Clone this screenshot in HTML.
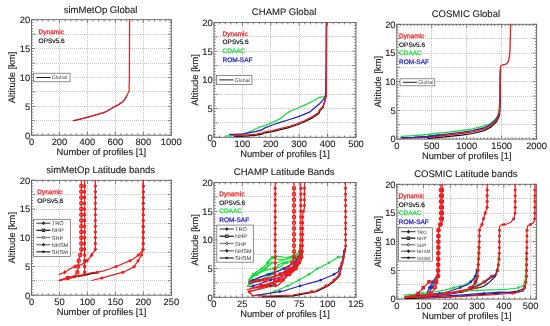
<!DOCTYPE html>
<html><head><meta charset="utf-8"><style>html,body{margin:0;padding:0;background:#fff;overflow:hidden}svg{display:block;text-rendering:geometricPrecision;will-change:transform}</style></head><body>
<svg width="550" height="326" viewBox="0 0 550 326" font-family='"Liberation Sans", sans-serif'>
<rect width="550" height="326" fill="#fff"/>
<path d="M59.5 20V135.2M87.5 20V135.2M115.5 20V135.2M143.5 20V135.2M32 120.5H171.3M32 106.5H171.3M32 91.5H171.3M32 77.5H171.3M32 63.5H171.3M32 48.5H171.3M32 34.5H171.3" stroke="#c8c8c8" stroke-width="1" stroke-dasharray="1,1" fill="none"/>
<path d="M31.5 135.2v-3.5M31.5 19.7v3.5M37.09 135.2v-1.8M37.09 19.7v1.8M42.68 135.2v-1.8M42.68 19.7v1.8M48.28 135.2v-1.8M48.28 19.7v1.8M53.87 135.2v-1.8M53.87 19.7v1.8M59.46 135.2v-3.5M59.46 19.7v3.5M65.05 135.2v-1.8M65.05 19.7v1.8M70.64 135.2v-1.8M70.64 19.7v1.8M76.24 135.2v-1.8M76.24 19.7v1.8M81.83 135.2v-1.8M81.83 19.7v1.8M87.42 135.2v-3.5M87.42 19.7v3.5M93.01 135.2v-1.8M93.01 19.7v1.8M98.6 135.2v-1.8M98.6 19.7v1.8M104.2 135.2v-1.8M104.2 19.7v1.8M109.79 135.2v-1.8M109.79 19.7v1.8M115.38 135.2v-3.5M115.38 19.7v3.5M120.97 135.2v-1.8M120.97 19.7v1.8M126.56 135.2v-1.8M126.56 19.7v1.8M132.16 135.2v-1.8M132.16 19.7v1.8M137.75 135.2v-1.8M137.75 19.7v1.8M143.34 135.2v-3.5M143.34 19.7v3.5M148.93 135.2v-1.8M148.93 19.7v1.8M154.52 135.2v-1.8M154.52 19.7v1.8M160.12 135.2v-1.8M160.12 19.7v1.8M165.71 135.2v-1.8M165.71 19.7v1.8M171.3 135.2v-3.5M171.3 19.7v3.5M31.5 135.2h3.5M171.3 135.2h-3.5M31.5 132.31h1.8M171.3 132.31h-1.8M31.5 129.42h1.8M171.3 129.42h-1.8M31.5 126.54h1.8M171.3 126.54h-1.8M31.5 123.65h1.8M171.3 123.65h-1.8M31.5 120.76h3.5M171.3 120.76h-3.5M31.5 117.88h1.8M171.3 117.88h-1.8M31.5 114.99h1.8M171.3 114.99h-1.8M31.5 112.1h1.8M171.3 112.1h-1.8M31.5 109.21h1.8M171.3 109.21h-1.8M31.5 106.32h3.5M171.3 106.32h-3.5M31.5 103.44h1.8M171.3 103.44h-1.8M31.5 100.55h1.8M171.3 100.55h-1.8M31.5 97.66h1.8M171.3 97.66h-1.8M31.5 94.78h1.8M171.3 94.78h-1.8M31.5 91.89h3.5M171.3 91.89h-3.5M31.5 89h1.8M171.3 89h-1.8M31.5 86.11h1.8M171.3 86.11h-1.8M31.5 83.22h1.8M171.3 83.22h-1.8M31.5 80.34h1.8M171.3 80.34h-1.8M31.5 77.45h3.5M171.3 77.45h-3.5M31.5 74.56h1.8M171.3 74.56h-1.8M31.5 71.67h1.8M171.3 71.67h-1.8M31.5 68.79h1.8M171.3 68.79h-1.8M31.5 65.9h1.8M171.3 65.9h-1.8M31.5 63.01h3.5M171.3 63.01h-3.5M31.5 60.12h1.8M171.3 60.12h-1.8M31.5 57.24h1.8M171.3 57.24h-1.8M31.5 54.35h1.8M171.3 54.35h-1.8M31.5 51.46h1.8M171.3 51.46h-1.8M31.5 48.58h3.5M171.3 48.58h-3.5M31.5 45.69h1.8M171.3 45.69h-1.8M31.5 42.8h1.8M171.3 42.8h-1.8M31.5 39.91h1.8M171.3 39.91h-1.8M31.5 37.03h1.8M171.3 37.03h-1.8M31.5 34.14h3.5M171.3 34.14h-3.5M31.5 31.25h1.8M171.3 31.25h-1.8M31.5 28.36h1.8M171.3 28.36h-1.8M31.5 25.48h1.8M171.3 25.48h-1.8M31.5 22.59h1.8M171.3 22.59h-1.8M31.5 19.7h3.5M171.3 19.7h-3.5" stroke="#626262" stroke-width="0.8" fill="none"/>
<rect x="31.5" y="19.7" width="139.8" height="115.5" fill="none" stroke="#626262" stroke-width="0.9"/>
<text x="31.5" y="145.2" font-size="9.4" fill="#1e1e1e" text-anchor="middle" stroke="#1e1e1e" stroke-width="0.12">0</text>
<text x="59.46" y="145.2" font-size="9.4" fill="#1e1e1e" text-anchor="middle" stroke="#1e1e1e" stroke-width="0.12">200</text>
<text x="87.42" y="145.2" font-size="9.4" fill="#1e1e1e" text-anchor="middle" stroke="#1e1e1e" stroke-width="0.12">400</text>
<text x="115.38" y="145.2" font-size="9.4" fill="#1e1e1e" text-anchor="middle" stroke="#1e1e1e" stroke-width="0.12">600</text>
<text x="143.34" y="145.2" font-size="9.4" fill="#1e1e1e" text-anchor="middle" stroke="#1e1e1e" stroke-width="0.12">800</text>
<text x="171.3" y="145.2" font-size="9.4" fill="#1e1e1e" text-anchor="middle" stroke="#1e1e1e" stroke-width="0.12">1000</text>
<text x="30.3" y="138.5" font-size="9.4" fill="#1e1e1e" text-anchor="end" stroke="#1e1e1e" stroke-width="0.12">0</text>
<text x="30.3" y="109.62" font-size="9.4" fill="#1e1e1e" text-anchor="end" stroke="#1e1e1e" stroke-width="0.12">5</text>
<text x="30.3" y="80.75" font-size="9.4" fill="#1e1e1e" text-anchor="end" stroke="#1e1e1e" stroke-width="0.12">10</text>
<text x="30.3" y="51.88" font-size="9.4" fill="#1e1e1e" text-anchor="end" stroke="#1e1e1e" stroke-width="0.12">15</text>
<text x="30.3" y="23" font-size="9.4" fill="#1e1e1e" text-anchor="end" stroke="#1e1e1e" stroke-width="0.12">20</text>
<text x="101.4" y="154.8" font-size="9.4" fill="#1e1e1e" text-anchor="middle" stroke="#1e1e1e" stroke-width="0.12">Number of profiles [1]</text>
<text x="0" y="0" font-size="9.4" fill="#1e1e1e" stroke="#1e1e1e" stroke-width="0.12" text-anchor="middle" transform="translate(15.3,77.45) rotate(-90)">Altitude [km]</text>
<text x="100.6" y="13.1" font-size="9.55" fill="#1e1e1e" text-anchor="middle" stroke="#1e1e1e" stroke-width="0.12">simMetOp Global</text>
<text x="38.6" y="33.8" font-size="6.5" fill="#ee1c1c" text-anchor="start" stroke="#ee1c1c" stroke-width="0.25">Dynamic</text>
<text x="38.6" y="42.5" font-size="6.5" fill="#111111" text-anchor="start" stroke="#111111" stroke-width="0.18">OPSv5.6</text>
<rect x="33.6" y="73.2" width="36.4" height="8.6" fill="#fff" stroke="#606060" stroke-width="0.7"/>
<path d="M36.4 77.5H50.6" stroke="#222" stroke-width="1"/>
<text x="51.8" y="79.4" font-size="5.25" fill="#4a4a4a" text-anchor="start" >Global</text>
<polyline points="127.1,95.7 124.6,100 122.2,102.5 118.5,104.9 114.8,106.8 111.1,108.9 107.5,111.1 103.8,112.9 100.1,113.8 98.9,114.2 90.4,116.7 82,118.9 73.5,120.9" fill="none" stroke="#111111" stroke-width="0.9" stroke-linejoin="round" stroke-linecap="round" />
<polyline points="129.6,19.7 129.4,80 129.1,86.1 129.1,91 127,95.3 124.5,99.6 122.1,102.1 118.4,104.5 114.7,106.4 111,108.5 107.4,110.7 103.7,112.5 100,113.4 98.8,113.8 90.3,116.3 81.9,118.5 73.4,120.5" fill="none" stroke="#ee1c1c" stroke-width="1.2" stroke-linejoin="round" stroke-linecap="round" />
<path d="M242.5 23V137.3M270.5 23V137.3M299.5 23V137.3M327.5 23V137.3M214 122.5H356M214 108.5H356M214 94.5H356M214 79.5H356M214 65.5H356M214 51.5H356M214 36.5H356" stroke="#c8c8c8" stroke-width="1" stroke-dasharray="1,1" fill="none"/>
<path d="M213.9 137.3v-3.5M213.9 22.6v3.5M219.58 137.3v-1.8M219.58 22.6v1.8M225.27 137.3v-1.8M225.27 22.6v1.8M230.95 137.3v-1.8M230.95 22.6v1.8M236.64 137.3v-1.8M236.64 22.6v1.8M242.32 137.3v-3.5M242.32 22.6v3.5M248 137.3v-1.8M248 22.6v1.8M253.69 137.3v-1.8M253.69 22.6v1.8M259.37 137.3v-1.8M259.37 22.6v1.8M265.06 137.3v-1.8M265.06 22.6v1.8M270.74 137.3v-3.5M270.74 22.6v3.5M276.42 137.3v-1.8M276.42 22.6v1.8M282.11 137.3v-1.8M282.11 22.6v1.8M287.79 137.3v-1.8M287.79 22.6v1.8M293.48 137.3v-1.8M293.48 22.6v1.8M299.16 137.3v-3.5M299.16 22.6v3.5M304.84 137.3v-1.8M304.84 22.6v1.8M310.53 137.3v-1.8M310.53 22.6v1.8M316.21 137.3v-1.8M316.21 22.6v1.8M321.9 137.3v-1.8M321.9 22.6v1.8M327.58 137.3v-3.5M327.58 22.6v3.5M333.26 137.3v-1.8M333.26 22.6v1.8M338.95 137.3v-1.8M338.95 22.6v1.8M344.63 137.3v-1.8M344.63 22.6v1.8M350.32 137.3v-1.8M350.32 22.6v1.8M356 137.3v-3.5M356 22.6v3.5M213.9 137.3h3.5M356 137.3h-3.5M213.9 134.43h1.8M356 134.43h-1.8M213.9 131.56h1.8M356 131.56h-1.8M213.9 128.7h1.8M356 128.7h-1.8M213.9 125.83h1.8M356 125.83h-1.8M213.9 122.96h3.5M356 122.96h-3.5M213.9 120.1h1.8M356 120.1h-1.8M213.9 117.23h1.8M356 117.23h-1.8M213.9 114.36h1.8M356 114.36h-1.8M213.9 111.49h1.8M356 111.49h-1.8M213.9 108.62h3.5M356 108.62h-3.5M213.9 105.76h1.8M356 105.76h-1.8M213.9 102.89h1.8M356 102.89h-1.8M213.9 100.02h1.8M356 100.02h-1.8M213.9 97.16h1.8M356 97.16h-1.8M213.9 94.29h3.5M356 94.29h-3.5M213.9 91.42h1.8M356 91.42h-1.8M213.9 88.55h1.8M356 88.55h-1.8M213.9 85.69h1.8M356 85.69h-1.8M213.9 82.82h1.8M356 82.82h-1.8M213.9 79.95h3.5M356 79.95h-3.5M213.9 77.08h1.8M356 77.08h-1.8M213.9 74.22h1.8M356 74.22h-1.8M213.9 71.35h1.8M356 71.35h-1.8M213.9 68.48h1.8M356 68.48h-1.8M213.9 65.61h3.5M356 65.61h-3.5M213.9 62.75h1.8M356 62.75h-1.8M213.9 59.88h1.8M356 59.88h-1.8M213.9 57.01h1.8M356 57.01h-1.8M213.9 54.14h1.8M356 54.14h-1.8M213.9 51.28h3.5M356 51.28h-3.5M213.9 48.41h1.8M356 48.41h-1.8M213.9 45.54h1.8M356 45.54h-1.8M213.9 42.67h1.8M356 42.67h-1.8M213.9 39.8h1.8M356 39.8h-1.8M213.9 36.94h3.5M356 36.94h-3.5M213.9 34.07h1.8M356 34.07h-1.8M213.9 31.2h1.8M356 31.2h-1.8M213.9 28.33h1.8M356 28.33h-1.8M213.9 25.47h1.8M356 25.47h-1.8M213.9 22.6h3.5M356 22.6h-3.5" stroke="#626262" stroke-width="0.8" fill="none"/>
<rect x="213.9" y="22.6" width="142.1" height="114.7" fill="none" stroke="#626262" stroke-width="0.9"/>
<text x="213.9" y="147.3" font-size="9.4" fill="#1e1e1e" text-anchor="middle" stroke="#1e1e1e" stroke-width="0.12">0</text>
<text x="242.32" y="147.3" font-size="9.4" fill="#1e1e1e" text-anchor="middle" stroke="#1e1e1e" stroke-width="0.12">100</text>
<text x="270.74" y="147.3" font-size="9.4" fill="#1e1e1e" text-anchor="middle" stroke="#1e1e1e" stroke-width="0.12">200</text>
<text x="299.16" y="147.3" font-size="9.4" fill="#1e1e1e" text-anchor="middle" stroke="#1e1e1e" stroke-width="0.12">300</text>
<text x="327.58" y="147.3" font-size="9.4" fill="#1e1e1e" text-anchor="middle" stroke="#1e1e1e" stroke-width="0.12">400</text>
<text x="356" y="147.3" font-size="9.4" fill="#1e1e1e" text-anchor="middle" stroke="#1e1e1e" stroke-width="0.12">500</text>
<text x="212.7" y="140.6" font-size="9.4" fill="#1e1e1e" text-anchor="end" stroke="#1e1e1e" stroke-width="0.12">0</text>
<text x="212.7" y="111.92" font-size="9.4" fill="#1e1e1e" text-anchor="end" stroke="#1e1e1e" stroke-width="0.12">5</text>
<text x="212.7" y="83.25" font-size="9.4" fill="#1e1e1e" text-anchor="end" stroke="#1e1e1e" stroke-width="0.12">10</text>
<text x="212.7" y="54.58" font-size="9.4" fill="#1e1e1e" text-anchor="end" stroke="#1e1e1e" stroke-width="0.12">15</text>
<text x="212.7" y="25.9" font-size="9.4" fill="#1e1e1e" text-anchor="end" stroke="#1e1e1e" stroke-width="0.12">20</text>
<text x="284.95" y="156.9" font-size="9.4" fill="#1e1e1e" text-anchor="middle" stroke="#1e1e1e" stroke-width="0.12">Number of profiles [1]</text>
<text x="0" y="0" font-size="9.4" fill="#1e1e1e" stroke="#1e1e1e" stroke-width="0.12" text-anchor="middle" transform="translate(197.7,79.95) rotate(-90)">Altitude [km]</text>
<text x="284.15" y="14.8" font-size="9.55" fill="#1e1e1e" text-anchor="middle" stroke="#1e1e1e" stroke-width="0.12">CHAMP Global</text>
<text x="222.5" y="35.9" font-size="6.5" fill="#ee1c1c" text-anchor="start" stroke="#ee1c1c" stroke-width="0.25">Dynamic</text>
<text x="222.5" y="44.45" font-size="6.5" fill="#111111" text-anchor="start" stroke="#111111" stroke-width="0.18">OPSv5.6</text>
<text x="222.5" y="53" font-size="6.5" fill="#19dc3c" text-anchor="start" stroke="#19dc3c" stroke-width="0.25">CDAAC</text>
<text x="222.5" y="61.55" font-size="6.5" fill="#2222c8" text-anchor="start" stroke="#2222c8" stroke-width="0.25">ROM-SAF</text>
<rect x="216.4" y="75.4" width="35.5" height="9" fill="#fff" stroke="#606060" stroke-width="0.7"/>
<path d="M219.2 79.9H233.4" stroke="#222" stroke-width="1"/>
<text x="234.6" y="81.8" font-size="5.25" fill="#4a4a4a" text-anchor="start" >Global</text>
<polyline points="233.9,136.2 241.1,136.5 248.4,135.8 256.6,135.1 262,134.2 265.4,132.8 272.8,131.6 281.4,129.4 289.9,127.3 297.3,124.8 304.6,121.8 312,118.1 318.7,113.8 320,110.7 323,107.7 326.4,95 326.5,22.6" fill="none" stroke="#111111" stroke-width="1.2" stroke-linejoin="round" stroke-linecap="round" />
<polyline points="225.3,136.1 231.6,135.7 240.7,134.5 248,132.7 254.4,129.5 258.9,127.3 263.5,125.9 265,125.7 272.4,122.6 281,118.3 285.8,114 290.8,110.9 296.9,108.5 301.8,106.3 307.9,103.6 314.1,100.5 319,97.5 322.6,96.8 324.5,96.8 325.6,95.6" fill="none" stroke="#19dc3c" stroke-width="1.3" stroke-linejoin="round" stroke-linecap="round" />
<polyline points="229.8,134.5 236.2,134.3 243.5,133.9 249.8,132.7 256.2,131.4 261.6,130 265,127.9 272.4,125 281,122.2 289.5,119.5 296.9,117.1 304.2,114.4 310.4,111.6 315.3,107.3 319,104.2 322,101.1 324.5,98.1 325.7,95 326.2,60 326.4,22.6" fill="none" stroke="#2222c8" stroke-width="1.3" stroke-linejoin="round" stroke-linecap="round" />
<polyline points="233.5,135.2 240.7,135.5 248,134.8 256.2,134.1 261.6,133.2 265,131.8 272.4,130.6 281,128.4 289.5,126.3 296.9,123.8 304.2,120.8 311.6,117.1 318.3,112.8 319.6,109.7 322.6,106.7 325.1,101.1 326.3,95 326.5,22.6" fill="none" stroke="#ee1c1c" stroke-width="1.3" stroke-linejoin="round" stroke-linecap="round" />
<path d="M431.5 25V139.1M466.5 25V139.1M501.5 25V139.1M397 124.5H536.6M397 110.5H536.6M397 96.5H536.6M397 81.5H536.6M397 67.5H536.6M397 53.5H536.6M397 38.5H536.6" stroke="#c8c8c8" stroke-width="1" stroke-dasharray="1,1" fill="none"/>
<path d="M396.8 139.1v-3.5M396.8 24.3v3.5M400.3 139.1v-1.8M400.3 24.3v1.8M403.79 139.1v-1.8M403.79 24.3v1.8M407.29 139.1v-1.8M407.29 24.3v1.8M410.78 139.1v-1.8M410.78 24.3v1.8M414.28 139.1v-1.8M414.28 24.3v1.8M417.77 139.1v-1.8M417.77 24.3v1.8M421.26 139.1v-1.8M421.26 24.3v1.8M424.76 139.1v-1.8M424.76 24.3v1.8M428.25 139.1v-1.8M428.25 24.3v1.8M431.75 139.1v-3.5M431.75 24.3v3.5M435.25 139.1v-1.8M435.25 24.3v1.8M438.74 139.1v-1.8M438.74 24.3v1.8M442.24 139.1v-1.8M442.24 24.3v1.8M445.73 139.1v-1.8M445.73 24.3v1.8M449.23 139.1v-1.8M449.23 24.3v1.8M452.72 139.1v-1.8M452.72 24.3v1.8M456.22 139.1v-1.8M456.22 24.3v1.8M459.71 139.1v-1.8M459.71 24.3v1.8M463.21 139.1v-1.8M463.21 24.3v1.8M466.7 139.1v-3.5M466.7 24.3v3.5M470.2 139.1v-1.8M470.2 24.3v1.8M473.69 139.1v-1.8M473.69 24.3v1.8M477.19 139.1v-1.8M477.19 24.3v1.8M480.68 139.1v-1.8M480.68 24.3v1.8M484.18 139.1v-1.8M484.18 24.3v1.8M487.67 139.1v-1.8M487.67 24.3v1.8M491.17 139.1v-1.8M491.17 24.3v1.8M494.66 139.1v-1.8M494.66 24.3v1.8M498.16 139.1v-1.8M498.16 24.3v1.8M501.65 139.1v-3.5M501.65 24.3v3.5M505.15 139.1v-1.8M505.15 24.3v1.8M508.64 139.1v-1.8M508.64 24.3v1.8M512.13 139.1v-1.8M512.13 24.3v1.8M515.63 139.1v-1.8M515.63 24.3v1.8M519.12 139.1v-1.8M519.12 24.3v1.8M522.62 139.1v-1.8M522.62 24.3v1.8M526.12 139.1v-1.8M526.12 24.3v1.8M529.61 139.1v-1.8M529.61 24.3v1.8M533.11 139.1v-1.8M533.11 24.3v1.8M536.6 139.1v-3.5M536.6 24.3v3.5M396.8 139.1h3.5M536.6 139.1h-3.5M396.8 136.23h1.8M536.6 136.23h-1.8M396.8 133.36h1.8M536.6 133.36h-1.8M396.8 130.49h1.8M536.6 130.49h-1.8M396.8 127.62h1.8M536.6 127.62h-1.8M396.8 124.75h3.5M536.6 124.75h-3.5M396.8 121.88h1.8M536.6 121.88h-1.8M396.8 119.01h1.8M536.6 119.01h-1.8M396.8 116.14h1.8M536.6 116.14h-1.8M396.8 113.27h1.8M536.6 113.27h-1.8M396.8 110.4h3.5M536.6 110.4h-3.5M396.8 107.53h1.8M536.6 107.53h-1.8M396.8 104.66h1.8M536.6 104.66h-1.8M396.8 101.79h1.8M536.6 101.79h-1.8M396.8 98.92h1.8M536.6 98.92h-1.8M396.8 96.05h3.5M536.6 96.05h-3.5M396.8 93.18h1.8M536.6 93.18h-1.8M396.8 90.31h1.8M536.6 90.31h-1.8M396.8 87.44h1.8M536.6 87.44h-1.8M396.8 84.57h1.8M536.6 84.57h-1.8M396.8 81.7h3.5M536.6 81.7h-3.5M396.8 78.83h1.8M536.6 78.83h-1.8M396.8 75.96h1.8M536.6 75.96h-1.8M396.8 73.09h1.8M536.6 73.09h-1.8M396.8 70.22h1.8M536.6 70.22h-1.8M396.8 67.35h3.5M536.6 67.35h-3.5M396.8 64.48h1.8M536.6 64.48h-1.8M396.8 61.61h1.8M536.6 61.61h-1.8M396.8 58.74h1.8M536.6 58.74h-1.8M396.8 55.87h1.8M536.6 55.87h-1.8M396.8 53h3.5M536.6 53h-3.5M396.8 50.13h1.8M536.6 50.13h-1.8M396.8 47.26h1.8M536.6 47.26h-1.8M396.8 44.39h1.8M536.6 44.39h-1.8M396.8 41.52h1.8M536.6 41.52h-1.8M396.8 38.65h3.5M536.6 38.65h-3.5M396.8 35.78h1.8M536.6 35.78h-1.8M396.8 32.91h1.8M536.6 32.91h-1.8M396.8 30.04h1.8M536.6 30.04h-1.8M396.8 27.17h1.8M536.6 27.17h-1.8M396.8 24.3h3.5M536.6 24.3h-3.5" stroke="#626262" stroke-width="0.8" fill="none"/>
<rect x="396.8" y="24.3" width="139.8" height="114.8" fill="none" stroke="#626262" stroke-width="0.9"/>
<text x="396.8" y="149.1" font-size="9.4" fill="#1e1e1e" text-anchor="middle" stroke="#1e1e1e" stroke-width="0.12">0</text>
<text x="431.75" y="149.1" font-size="9.4" fill="#1e1e1e" text-anchor="middle" stroke="#1e1e1e" stroke-width="0.12">500</text>
<text x="466.7" y="149.1" font-size="9.4" fill="#1e1e1e" text-anchor="middle" stroke="#1e1e1e" stroke-width="0.12">1000</text>
<text x="501.65" y="149.1" font-size="9.4" fill="#1e1e1e" text-anchor="middle" stroke="#1e1e1e" stroke-width="0.12">1500</text>
<text x="536.6" y="149.1" font-size="9.4" fill="#1e1e1e" text-anchor="middle" stroke="#1e1e1e" stroke-width="0.12">2000</text>
<text x="395.6" y="142.4" font-size="9.4" fill="#1e1e1e" text-anchor="end" stroke="#1e1e1e" stroke-width="0.12">0</text>
<text x="395.6" y="113.7" font-size="9.4" fill="#1e1e1e" text-anchor="end" stroke="#1e1e1e" stroke-width="0.12">5</text>
<text x="395.6" y="85" font-size="9.4" fill="#1e1e1e" text-anchor="end" stroke="#1e1e1e" stroke-width="0.12">10</text>
<text x="395.6" y="56.3" font-size="9.4" fill="#1e1e1e" text-anchor="end" stroke="#1e1e1e" stroke-width="0.12">15</text>
<text x="395.6" y="27.6" font-size="9.4" fill="#1e1e1e" text-anchor="end" stroke="#1e1e1e" stroke-width="0.12">20</text>
<text x="466.7" y="158.7" font-size="9.4" fill="#1e1e1e" text-anchor="middle" stroke="#1e1e1e" stroke-width="0.12">Number of profiles [1]</text>
<text x="0" y="0" font-size="9.4" fill="#1e1e1e" stroke="#1e1e1e" stroke-width="0.12" text-anchor="middle" transform="translate(380.6,81.7) rotate(-90)">Altitude [km]</text>
<text x="465.9" y="16.8" font-size="9.55" fill="#1e1e1e" text-anchor="middle" stroke="#1e1e1e" stroke-width="0.12">COSMIC Global</text>
<text x="399" y="37.9" font-size="6.5" fill="#ee1c1c" text-anchor="start" stroke="#ee1c1c" stroke-width="0.25">Dynamic</text>
<text x="399" y="46.5" font-size="6.5" fill="#111111" text-anchor="start" stroke="#111111" stroke-width="0.18">OPSv5.6</text>
<text x="399" y="55.1" font-size="6.5" fill="#19dc3c" text-anchor="start" stroke="#19dc3c" stroke-width="0.25">CDAAC</text>
<text x="399" y="63.7" font-size="6.5" fill="#2222c8" text-anchor="start" stroke="#2222c8" stroke-width="0.25">ROM-SAF</text>
<rect x="400" y="78.8" width="34.8" height="7" fill="#fff" stroke="#606060" stroke-width="0.7"/>
<path d="M402.8 82.3H417" stroke="#222" stroke-width="1"/>
<text x="418.2" y="84.2" font-size="5.25" fill="#4a4a4a" text-anchor="start" >Global</text>
<polyline points="427.8,138.4 440,137.3 461.8,135.1 472.7,133.5 483.6,130.9 491.3,126.9 496.7,121.5 499.5,115.5 500.2,100 500.4,70" fill="none" stroke="#111111" stroke-width="1.2" stroke-linejoin="round" stroke-linecap="round" />
<polyline points="401,136.4 414.2,135.6 427.8,134.5 440,132.9 450.9,131.8 461.8,130.5 472.7,128.8 483.6,126.1 489.1,124 494.5,120.4 497.8,115.5 498.9,110 499.5,104 500,95 500.4,70" fill="none" stroke="#19dc3c" stroke-width="1.3" stroke-linejoin="round" stroke-linecap="round" />
<polyline points="401.5,137.6 414.2,137.3 427.8,136.5 440,134.9 461.8,132.4 472.7,130.7 483.6,128 491.3,124.2 496.7,118.7 499.5,112.2 500,100 500.4,70" fill="none" stroke="#2222c8" stroke-width="1.3" stroke-linejoin="round" stroke-linecap="round" />
<polyline points="402,138.2 427.8,137.3 440,136 461.8,133.5 472.7,131.8 483.6,129.1 491.3,125.3 496.7,119.8 499.5,113.3 500.1,100 500.3,90 500.5,67.9 501.1,65.7 502.9,64.8 506.6,63.9 508.4,61.5 509.4,56.9 509.9,51.3 510.3,38.4 510.6,24.3" fill="none" stroke="#ee1c1c" stroke-width="1.3" stroke-linejoin="round" stroke-linecap="round" />
<polyline points="401.5,137.6 414.2,137.3 427.8,136.5 440,134.9" fill="none" stroke="#2222c8" stroke-width="1.3" stroke-linejoin="round" stroke-linecap="round" />
<path d="M59.5 181V295.2M87.5 181V295.2M115.5 181V295.2M143.5 181V295.2M32 280.5H171.4M32 266.5H171.4M32 252.5H171.4M32 237.5H171.4M32 223.5H171.4M32 209.5H171.4M32 194.5H171.4" stroke="#c8c8c8" stroke-width="1" stroke-dasharray="1,1" fill="none"/>
<path d="M31.5 295.2v-3.5M31.5 180.3v3.5M37.1 295.2v-1.8M37.1 180.3v1.8M42.69 295.2v-1.8M42.69 180.3v1.8M48.29 295.2v-1.8M48.29 180.3v1.8M53.88 295.2v-1.8M53.88 180.3v1.8M59.48 295.2v-3.5M59.48 180.3v3.5M65.08 295.2v-1.8M65.08 180.3v1.8M70.67 295.2v-1.8M70.67 180.3v1.8M76.27 295.2v-1.8M76.27 180.3v1.8M81.86 295.2v-1.8M81.86 180.3v1.8M87.46 295.2v-3.5M87.46 180.3v3.5M93.06 295.2v-1.8M93.06 180.3v1.8M98.65 295.2v-1.8M98.65 180.3v1.8M104.25 295.2v-1.8M104.25 180.3v1.8M109.84 295.2v-1.8M109.84 180.3v1.8M115.44 295.2v-3.5M115.44 180.3v3.5M121.04 295.2v-1.8M121.04 180.3v1.8M126.63 295.2v-1.8M126.63 180.3v1.8M132.23 295.2v-1.8M132.23 180.3v1.8M137.82 295.2v-1.8M137.82 180.3v1.8M143.42 295.2v-3.5M143.42 180.3v3.5M149.02 295.2v-1.8M149.02 180.3v1.8M154.61 295.2v-1.8M154.61 180.3v1.8M160.21 295.2v-1.8M160.21 180.3v1.8M165.8 295.2v-1.8M165.8 180.3v1.8M171.4 295.2v-3.5M171.4 180.3v3.5M31.5 295.2h3.5M171.4 295.2h-3.5M31.5 292.33h1.8M171.4 292.33h-1.8M31.5 289.45h1.8M171.4 289.45h-1.8M31.5 286.58h1.8M171.4 286.58h-1.8M31.5 283.71h1.8M171.4 283.71h-1.8M31.5 280.84h3.5M171.4 280.84h-3.5M31.5 277.96h1.8M171.4 277.96h-1.8M31.5 275.09h1.8M171.4 275.09h-1.8M31.5 272.22h1.8M171.4 272.22h-1.8M31.5 269.35h1.8M171.4 269.35h-1.8M31.5 266.48h3.5M171.4 266.48h-3.5M31.5 263.6h1.8M171.4 263.6h-1.8M31.5 260.73h1.8M171.4 260.73h-1.8M31.5 257.86h1.8M171.4 257.86h-1.8M31.5 254.99h1.8M171.4 254.99h-1.8M31.5 252.11h3.5M171.4 252.11h-3.5M31.5 249.24h1.8M171.4 249.24h-1.8M31.5 246.37h1.8M171.4 246.37h-1.8M31.5 243.5h1.8M171.4 243.5h-1.8M31.5 240.62h1.8M171.4 240.62h-1.8M31.5 237.75h3.5M171.4 237.75h-3.5M31.5 234.88h1.8M171.4 234.88h-1.8M31.5 232h1.8M171.4 232h-1.8M31.5 229.13h1.8M171.4 229.13h-1.8M31.5 226.26h1.8M171.4 226.26h-1.8M31.5 223.39h3.5M171.4 223.39h-3.5M31.5 220.51h1.8M171.4 220.51h-1.8M31.5 217.64h1.8M171.4 217.64h-1.8M31.5 214.77h1.8M171.4 214.77h-1.8M31.5 211.9h1.8M171.4 211.9h-1.8M31.5 209.03h3.5M171.4 209.03h-3.5M31.5 206.15h1.8M171.4 206.15h-1.8M31.5 203.28h1.8M171.4 203.28h-1.8M31.5 200.41h1.8M171.4 200.41h-1.8M31.5 197.54h1.8M171.4 197.54h-1.8M31.5 194.66h3.5M171.4 194.66h-3.5M31.5 191.79h1.8M171.4 191.79h-1.8M31.5 188.92h1.8M171.4 188.92h-1.8M31.5 186.05h1.8M171.4 186.05h-1.8M31.5 183.17h1.8M171.4 183.17h-1.8M31.5 180.3h3.5M171.4 180.3h-3.5" stroke="#626262" stroke-width="0.8" fill="none"/>
<rect x="31.5" y="180.3" width="139.9" height="114.9" fill="none" stroke="#626262" stroke-width="0.9"/>
<text x="31.5" y="305.2" font-size="9.4" fill="#1e1e1e" text-anchor="middle" stroke="#1e1e1e" stroke-width="0.12">0</text>
<text x="59.48" y="305.2" font-size="9.4" fill="#1e1e1e" text-anchor="middle" stroke="#1e1e1e" stroke-width="0.12">50</text>
<text x="87.46" y="305.2" font-size="9.4" fill="#1e1e1e" text-anchor="middle" stroke="#1e1e1e" stroke-width="0.12">100</text>
<text x="115.44" y="305.2" font-size="9.4" fill="#1e1e1e" text-anchor="middle" stroke="#1e1e1e" stroke-width="0.12">150</text>
<text x="143.42" y="305.2" font-size="9.4" fill="#1e1e1e" text-anchor="middle" stroke="#1e1e1e" stroke-width="0.12">200</text>
<text x="171.4" y="305.2" font-size="9.4" fill="#1e1e1e" text-anchor="middle" stroke="#1e1e1e" stroke-width="0.12">250</text>
<text x="30.3" y="298.5" font-size="9.4" fill="#1e1e1e" text-anchor="end" stroke="#1e1e1e" stroke-width="0.12">0</text>
<text x="30.3" y="269.78" font-size="9.4" fill="#1e1e1e" text-anchor="end" stroke="#1e1e1e" stroke-width="0.12">5</text>
<text x="30.3" y="241.05" font-size="9.4" fill="#1e1e1e" text-anchor="end" stroke="#1e1e1e" stroke-width="0.12">10</text>
<text x="30.3" y="212.33" font-size="9.4" fill="#1e1e1e" text-anchor="end" stroke="#1e1e1e" stroke-width="0.12">15</text>
<text x="30.3" y="183.6" font-size="9.4" fill="#1e1e1e" text-anchor="end" stroke="#1e1e1e" stroke-width="0.12">20</text>
<text x="101.45" y="314.8" font-size="9.4" fill="#1e1e1e" text-anchor="middle" stroke="#1e1e1e" stroke-width="0.12">Number of profiles [1]</text>
<text x="0" y="0" font-size="9.4" fill="#1e1e1e" stroke="#1e1e1e" stroke-width="0.12" text-anchor="middle" transform="translate(15.3,237.75) rotate(-90)">Altitude [km]</text>
<text x="100.65" y="173.2" font-size="9.55" fill="#1e1e1e" text-anchor="middle" stroke="#1e1e1e" stroke-width="0.12">simMetOp Latitude bands</text>
<text x="37.3" y="193.6" font-size="6.5" fill="#ee1c1c" text-anchor="start" stroke="#ee1c1c" stroke-width="0.25">Dynamic</text>
<text x="37.3" y="202.5" font-size="6.5" fill="#111111" text-anchor="start" stroke="#111111" stroke-width="0.18">OPSv5.6</text>
<polyline points="69.3,278.3 76.8,276.7 85.4,275.1 92.4,273.4 97.9,273" fill="none" stroke="#111111" stroke-width="1.1" stroke-linejoin="round" stroke-linecap="round" />
<polyline points="143.2,180.3 143.2,249.7 141.5,255 138.3,260.4 134,266.9 124.3,271.8 105,277.2 91.8,280.5" fill="none" stroke="#ee1c1c" stroke-width="1.2" stroke-linejoin="round" stroke-linecap="round" />
<circle cx="101.94" cy="277.96" r="1.5" fill="#ee1c1c"/>
<circle cx="122.8" cy="272.22" r="1.5" fill="#ee1c1c"/>
<circle cx="134.28" cy="266.47" r="1.5" fill="#ee1c1c"/>
<circle cx="138.08" cy="260.73" r="1.5" fill="#ee1c1c"/>
<circle cx="141.5" cy="254.98" r="1.5" fill="#ee1c1c"/>
<circle cx="143.2" cy="249.24" r="1.5" fill="#ee1c1c"/>
<circle cx="143.2" cy="243.5" r="1.5" fill="#ee1c1c"/>
<circle cx="143.2" cy="237.75" r="1.5" fill="#ee1c1c"/>
<circle cx="143.2" cy="232" r="1.5" fill="#ee1c1c"/>
<circle cx="143.2" cy="226.26" r="1.5" fill="#ee1c1c"/>
<circle cx="143.2" cy="220.51" r="1.5" fill="#ee1c1c"/>
<circle cx="143.2" cy="214.77" r="1.5" fill="#ee1c1c"/>
<circle cx="143.2" cy="209.02" r="1.5" fill="#ee1c1c"/>
<circle cx="143.2" cy="203.28" r="1.5" fill="#ee1c1c"/>
<circle cx="143.2" cy="197.53" r="1.5" fill="#ee1c1c"/>
<circle cx="143.2" cy="191.79" r="1.5" fill="#ee1c1c"/>
<circle cx="143.2" cy="186.04" r="1.5" fill="#ee1c1c"/>
<polyline points="143.4,180.3 143.2,247 142.6,250.5 139.4,254 136,257 130.8,260.4 117.9,265.8 110,268.7 102.9,271.1 97.5,272.2 92,272.6 85,274.3 76.4,275.9 68.9,277.5 59.3,280.4" fill="none" stroke="#ee1c1c" stroke-width="1.2" stroke-linejoin="round" stroke-linecap="round" />
<circle cx="67.36" cy="277.96" r="1.5" fill="#ee1c1c"/>
<circle cx="97.23" cy="272.22" r="1.5" fill="#ee1c1c"/>
<circle cx="116.06" cy="266.47" r="1.5" fill="#ee1c1c"/>
<circle cx="130.01" cy="260.73" r="1.5" fill="#ee1c1c"/>
<circle cx="138.28" cy="254.98" r="1.5" fill="#ee1c1c"/>
<circle cx="142.82" cy="249.24" r="1.5" fill="#ee1c1c"/>
<circle cx="143.21" cy="243.5" r="1.5" fill="#ee1c1c"/>
<circle cx="143.23" cy="237.75" r="1.5" fill="#ee1c1c"/>
<circle cx="143.24" cy="232" r="1.5" fill="#ee1c1c"/>
<circle cx="143.26" cy="226.26" r="1.5" fill="#ee1c1c"/>
<circle cx="143.28" cy="220.51" r="1.5" fill="#ee1c1c"/>
<circle cx="143.3" cy="214.77" r="1.5" fill="#ee1c1c"/>
<circle cx="143.31" cy="209.02" r="1.5" fill="#ee1c1c"/>
<circle cx="143.33" cy="203.28" r="1.5" fill="#ee1c1c"/>
<circle cx="143.35" cy="197.53" r="1.5" fill="#ee1c1c"/>
<circle cx="143.37" cy="191.79" r="1.5" fill="#ee1c1c"/>
<circle cx="143.38" cy="186.04" r="1.5" fill="#ee1c1c"/>
<polyline points="95.4,180.3 95.4,249.3 91.8,254.8 87.5,260.3 84.4,263.1 79.5,265.2 75.2,266.4 69.7,268.9 64.8,272.2 59.3,274.4" fill="none" stroke="#ee1c1c" stroke-width="1.2" stroke-linejoin="round" stroke-linecap="round" />
<path d="M64.75 269.92l1.85 2.3l-1.85 2.3l-1.85 -2.3z" fill="#ee1c1c"/>
<path d="M75.04 264.17l1.85 2.3l-1.85 2.3l-1.85 -2.3z" fill="#ee1c1c"/>
<path d="M87.02 258.43l1.85 2.3l-1.85 2.3l-1.85 -2.3z" fill="#ee1c1c"/>
<path d="M91.66 252.68l1.85 2.3l-1.85 2.3l-1.85 -2.3z" fill="#ee1c1c"/>
<path d="M95.4 246.94l1.85 2.3l-1.85 2.3l-1.85 -2.3z" fill="#ee1c1c"/>
<path d="M95.4 241.19l1.85 2.3l-1.85 2.3l-1.85 -2.3z" fill="#ee1c1c"/>
<path d="M95.4 235.45l1.85 2.3l-1.85 2.3l-1.85 -2.3z" fill="#ee1c1c"/>
<path d="M95.4 229.7l1.85 2.3l-1.85 2.3l-1.85 -2.3z" fill="#ee1c1c"/>
<path d="M95.4 223.96l1.85 2.3l-1.85 2.3l-1.85 -2.3z" fill="#ee1c1c"/>
<path d="M95.4 218.21l1.85 2.3l-1.85 2.3l-1.85 -2.3z" fill="#ee1c1c"/>
<path d="M95.4 212.47l1.85 2.3l-1.85 2.3l-1.85 -2.3z" fill="#ee1c1c"/>
<path d="M95.4 206.72l1.85 2.3l-1.85 2.3l-1.85 -2.3z" fill="#ee1c1c"/>
<path d="M95.4 200.98l1.85 2.3l-1.85 2.3l-1.85 -2.3z" fill="#ee1c1c"/>
<path d="M95.4 195.23l1.85 2.3l-1.85 2.3l-1.85 -2.3z" fill="#ee1c1c"/>
<path d="M95.4 189.49l1.85 2.3l-1.85 2.3l-1.85 -2.3z" fill="#ee1c1c"/>
<path d="M95.4 183.74l1.85 2.3l-1.85 2.3l-1.85 -2.3z" fill="#ee1c1c"/>
<polyline points="84.6,180.3 84.6,272.2 84,275.4 76.4,276.3 68.9,277.8 59.3,280.6" fill="none" stroke="#ee1c1c" stroke-width="1.2" stroke-linejoin="round" stroke-linecap="round" />
<rect x="66.88" y="276.51" width="2.9" height="2.9" fill="#ee1c1c"/>
<rect x="83.15" y="270.77" width="2.9" height="2.9" fill="#ee1c1c"/>
<rect x="83.15" y="265.02" width="2.9" height="2.9" fill="#ee1c1c"/>
<rect x="83.15" y="259.28" width="2.9" height="2.9" fill="#ee1c1c"/>
<rect x="83.15" y="253.53" width="2.9" height="2.9" fill="#ee1c1c"/>
<rect x="83.15" y="247.79" width="2.9" height="2.9" fill="#ee1c1c"/>
<rect x="83.15" y="242.05" width="2.9" height="2.9" fill="#ee1c1c"/>
<rect x="83.15" y="236.3" width="2.9" height="2.9" fill="#ee1c1c"/>
<rect x="83.15" y="230.56" width="2.9" height="2.9" fill="#ee1c1c"/>
<rect x="83.15" y="224.81" width="2.9" height="2.9" fill="#ee1c1c"/>
<rect x="83.15" y="219.06" width="2.9" height="2.9" fill="#ee1c1c"/>
<rect x="83.15" y="213.32" width="2.9" height="2.9" fill="#ee1c1c"/>
<rect x="83.15" y="207.57" width="2.9" height="2.9" fill="#ee1c1c"/>
<rect x="83.15" y="201.83" width="2.9" height="2.9" fill="#ee1c1c"/>
<rect x="83.15" y="196.08" width="2.9" height="2.9" fill="#ee1c1c"/>
<rect x="83.15" y="190.34" width="2.9" height="2.9" fill="#ee1c1c"/>
<rect x="83.15" y="184.59" width="2.9" height="2.9" fill="#ee1c1c"/>
<polyline points="81.3,180.3 81.3,252 79.2,258 78.4,263 78,268 77.3,272.5 75.4,275.3 68.9,277.6 59.3,280.3" fill="none" stroke="#ee1c1c" stroke-width="1.2" stroke-linejoin="round" stroke-linecap="round" />
<circle cx="67.6" cy="277.96" r="1.6" fill="none" stroke="#ee1c1c" stroke-width="1.3"/>
<circle cx="77.34" cy="272.22" r="1.6" fill="none" stroke="#ee1c1c" stroke-width="1.3"/>
<circle cx="78.12" cy="266.47" r="1.6" fill="none" stroke="#ee1c1c" stroke-width="1.3"/>
<circle cx="78.76" cy="260.73" r="1.6" fill="none" stroke="#ee1c1c" stroke-width="1.3"/>
<circle cx="80.26" cy="254.98" r="1.6" fill="none" stroke="#ee1c1c" stroke-width="1.3"/>
<circle cx="81.3" cy="249.24" r="1.6" fill="none" stroke="#ee1c1c" stroke-width="1.3"/>
<circle cx="81.3" cy="243.5" r="1.6" fill="none" stroke="#ee1c1c" stroke-width="1.3"/>
<circle cx="81.3" cy="237.75" r="1.6" fill="none" stroke="#ee1c1c" stroke-width="1.3"/>
<circle cx="81.3" cy="232" r="1.6" fill="none" stroke="#ee1c1c" stroke-width="1.3"/>
<circle cx="81.3" cy="226.26" r="1.6" fill="none" stroke="#ee1c1c" stroke-width="1.3"/>
<circle cx="81.3" cy="220.51" r="1.6" fill="none" stroke="#ee1c1c" stroke-width="1.3"/>
<circle cx="81.3" cy="214.77" r="1.6" fill="none" stroke="#ee1c1c" stroke-width="1.3"/>
<circle cx="81.3" cy="209.02" r="1.6" fill="none" stroke="#ee1c1c" stroke-width="1.3"/>
<circle cx="81.3" cy="203.28" r="1.6" fill="none" stroke="#ee1c1c" stroke-width="1.3"/>
<circle cx="81.3" cy="197.53" r="1.6" fill="none" stroke="#ee1c1c" stroke-width="1.3"/>
<circle cx="81.3" cy="191.79" r="1.6" fill="none" stroke="#ee1c1c" stroke-width="1.3"/>
<circle cx="81.3" cy="186.04" r="1.6" fill="none" stroke="#ee1c1c" stroke-width="1.3"/>
<rect x="33.5" y="219.3" width="36.8" height="37.1" fill="#fff" stroke="#606060" stroke-width="0.7"/>
<path d="M36.3 223.2H50.5" stroke="#333" stroke-width="1.0"/>
<path d="M43.5 221.25l1.57 1.95l-1.57 1.95l-1.57 -1.95z" fill="#222"/>
<text x="51.8" y="225.2" font-size="5.6" fill="#3a3a3a" text-anchor="start" >TRO</text>
<path d="M36.3 230.35H50.5" stroke="#333" stroke-width="1.4"/>
<rect x="42.23" y="229.08" width="2.55" height="2.55" fill="#fff" stroke="#222" stroke-width="0.9"/>
<path d="M43.5 229.08v2.55" stroke="#222" stroke-width="0.8"/>
<text x="51.8" y="232.35" font-size="5.6" fill="#3a3a3a" text-anchor="start" >NHP</text>
<path d="M36.3 237.5H50.5" stroke="#888" stroke-width="1.4"/>
<circle cx="43.5" cy="237.5" r="1.1" fill="#fff" stroke="#222" stroke-width="0.8"/>
<text x="51.8" y="239.5" font-size="5.6" fill="#3a3a3a" text-anchor="start" >SHP</text>
<path d="M36.3 244.65H50.5" stroke="#888" stroke-width="1.6"/>
<path d="M43.5 242.7l1.57 1.95l-1.57 1.95l-1.57 -1.95z" fill="#222"/>
<text x="51.8" y="246.65" font-size="5.6" fill="#3a3a3a" text-anchor="start" >NHSM</text>
<path d="M36.3 251.8H50.5" stroke="#333" stroke-width="1.2"/>
<circle cx="43.5" cy="251.8" r="1.27" fill="#222"/>
<text x="51.8" y="253.8" font-size="5.6" fill="#3a3a3a" text-anchor="start" >SHSM</text>
<path d="M242.5 183V297.3M270.5 183V297.3M299.5 183V297.3M327.5 183V297.3M214 282.5H356M214 268.5H356M214 254.5H356M214 239.5H356M214 225.5H356M214 211.5H356M214 196.5H356" stroke="#c8c8c8" stroke-width="1" stroke-dasharray="1,1" fill="none"/>
<path d="M213.9 297.3v-3.5M213.9 182.6v3.5M219.58 297.3v-1.8M219.58 182.6v1.8M225.27 297.3v-1.8M225.27 182.6v1.8M230.95 297.3v-1.8M230.95 182.6v1.8M236.64 297.3v-1.8M236.64 182.6v1.8M242.32 297.3v-3.5M242.32 182.6v3.5M248 297.3v-1.8M248 182.6v1.8M253.69 297.3v-1.8M253.69 182.6v1.8M259.37 297.3v-1.8M259.37 182.6v1.8M265.06 297.3v-1.8M265.06 182.6v1.8M270.74 297.3v-3.5M270.74 182.6v3.5M276.42 297.3v-1.8M276.42 182.6v1.8M282.11 297.3v-1.8M282.11 182.6v1.8M287.79 297.3v-1.8M287.79 182.6v1.8M293.48 297.3v-1.8M293.48 182.6v1.8M299.16 297.3v-3.5M299.16 182.6v3.5M304.84 297.3v-1.8M304.84 182.6v1.8M310.53 297.3v-1.8M310.53 182.6v1.8M316.21 297.3v-1.8M316.21 182.6v1.8M321.9 297.3v-1.8M321.9 182.6v1.8M327.58 297.3v-3.5M327.58 182.6v3.5M333.26 297.3v-1.8M333.26 182.6v1.8M338.95 297.3v-1.8M338.95 182.6v1.8M344.63 297.3v-1.8M344.63 182.6v1.8M350.32 297.3v-1.8M350.32 182.6v1.8M356 297.3v-3.5M356 182.6v3.5M213.9 297.3h3.5M356 297.3h-3.5M213.9 294.43h1.8M356 294.43h-1.8M213.9 291.56h1.8M356 291.56h-1.8M213.9 288.7h1.8M356 288.7h-1.8M213.9 285.83h1.8M356 285.83h-1.8M213.9 282.96h3.5M356 282.96h-3.5M213.9 280.1h1.8M356 280.1h-1.8M213.9 277.23h1.8M356 277.23h-1.8M213.9 274.36h1.8M356 274.36h-1.8M213.9 271.49h1.8M356 271.49h-1.8M213.9 268.62h3.5M356 268.62h-3.5M213.9 265.76h1.8M356 265.76h-1.8M213.9 262.89h1.8M356 262.89h-1.8M213.9 260.02h1.8M356 260.02h-1.8M213.9 257.16h1.8M356 257.16h-1.8M213.9 254.29h3.5M356 254.29h-3.5M213.9 251.42h1.8M356 251.42h-1.8M213.9 248.55h1.8M356 248.55h-1.8M213.9 245.69h1.8M356 245.69h-1.8M213.9 242.82h1.8M356 242.82h-1.8M213.9 239.95h3.5M356 239.95h-3.5M213.9 237.08h1.8M356 237.08h-1.8M213.9 234.22h1.8M356 234.22h-1.8M213.9 231.35h1.8M356 231.35h-1.8M213.9 228.48h1.8M356 228.48h-1.8M213.9 225.61h3.5M356 225.61h-3.5M213.9 222.75h1.8M356 222.75h-1.8M213.9 219.88h1.8M356 219.88h-1.8M213.9 217.01h1.8M356 217.01h-1.8M213.9 214.14h1.8M356 214.14h-1.8M213.9 211.28h3.5M356 211.28h-3.5M213.9 208.41h1.8M356 208.41h-1.8M213.9 205.54h1.8M356 205.54h-1.8M213.9 202.67h1.8M356 202.67h-1.8M213.9 199.81h1.8M356 199.81h-1.8M213.9 196.94h3.5M356 196.94h-3.5M213.9 194.07h1.8M356 194.07h-1.8M213.9 191.2h1.8M356 191.2h-1.8M213.9 188.33h1.8M356 188.33h-1.8M213.9 185.47h1.8M356 185.47h-1.8M213.9 182.6h3.5M356 182.6h-3.5" stroke="#626262" stroke-width="0.8" fill="none"/>
<rect x="213.9" y="182.6" width="142.1" height="114.7" fill="none" stroke="#626262" stroke-width="0.9"/>
<text x="213.9" y="307.3" font-size="9.4" fill="#1e1e1e" text-anchor="middle" stroke="#1e1e1e" stroke-width="0.12">0</text>
<text x="242.32" y="307.3" font-size="9.4" fill="#1e1e1e" text-anchor="middle" stroke="#1e1e1e" stroke-width="0.12">25</text>
<text x="270.74" y="307.3" font-size="9.4" fill="#1e1e1e" text-anchor="middle" stroke="#1e1e1e" stroke-width="0.12">50</text>
<text x="299.16" y="307.3" font-size="9.4" fill="#1e1e1e" text-anchor="middle" stroke="#1e1e1e" stroke-width="0.12">75</text>
<text x="327.58" y="307.3" font-size="9.4" fill="#1e1e1e" text-anchor="middle" stroke="#1e1e1e" stroke-width="0.12">100</text>
<text x="356" y="307.3" font-size="9.4" fill="#1e1e1e" text-anchor="middle" stroke="#1e1e1e" stroke-width="0.12">125</text>
<text x="212.7" y="300.6" font-size="9.4" fill="#1e1e1e" text-anchor="end" stroke="#1e1e1e" stroke-width="0.12">0</text>
<text x="212.7" y="271.93" font-size="9.4" fill="#1e1e1e" text-anchor="end" stroke="#1e1e1e" stroke-width="0.12">5</text>
<text x="212.7" y="243.25" font-size="9.4" fill="#1e1e1e" text-anchor="end" stroke="#1e1e1e" stroke-width="0.12">10</text>
<text x="212.7" y="214.58" font-size="9.4" fill="#1e1e1e" text-anchor="end" stroke="#1e1e1e" stroke-width="0.12">15</text>
<text x="212.7" y="185.9" font-size="9.4" fill="#1e1e1e" text-anchor="end" stroke="#1e1e1e" stroke-width="0.12">20</text>
<text x="284.95" y="316.9" font-size="9.4" fill="#1e1e1e" text-anchor="middle" stroke="#1e1e1e" stroke-width="0.12">Number of profiles [1]</text>
<text x="0" y="0" font-size="9.4" fill="#1e1e1e" stroke="#1e1e1e" stroke-width="0.12" text-anchor="middle" transform="translate(197.7,239.95) rotate(-90)">Altitude [km]</text>
<text x="284.15" y="175.4" font-size="9.55" fill="#1e1e1e" text-anchor="middle" stroke="#1e1e1e" stroke-width="0.12">CHAMP Latitude Bands</text>
<text x="219.2" y="196.2" font-size="6.5" fill="#ee1c1c" text-anchor="start" stroke="#ee1c1c" stroke-width="0.25">Dynamic</text>
<text x="219.2" y="204.65" font-size="6.5" fill="#111111" text-anchor="start" stroke="#111111" stroke-width="0.18">OPSv5.6</text>
<text x="219.2" y="213.1" font-size="6.5" fill="#19dc3c" text-anchor="start" stroke="#19dc3c" stroke-width="0.25">CDAAC</text>
<text x="219.2" y="221.55" font-size="6.5" fill="#2222c8" text-anchor="start" stroke="#2222c8" stroke-width="0.25">ROM-SAF</text>
<polyline points="262.2,286.9 268.7,285.9 276.2,284.2" fill="none" stroke="#111111" stroke-width="1.1" stroke-linejoin="round" stroke-linecap="round" />
<polyline points="285.2,273.2 292.1,270 297.2,264.6" fill="none" stroke="#111111" stroke-width="1.1" stroke-linejoin="round" stroke-linecap="round" />
<polyline points="262.2,296.9 292.9,295.9 316.2,291.8 328.8,285.6 333.2,282.1 339.4,276.1 342.7,262.4 345.8,247.6" fill="none" stroke="#111111" stroke-width="1.1" stroke-linejoin="round" stroke-linecap="round" />
<polyline points="248.9,280.7 253.8,276.4 258.7,273.3 263.6,270.2 267.3,266.6 268.5,262.3 270.4,258.6 272.8,256.7 275.9,256.1 280.8,256.7 286,257.5 290,256.8 295.2,254.6 299.5,252 300.3,245.2" fill="none" stroke="#19dc3c" stroke-width="1.2" stroke-linejoin="round" stroke-linecap="round" />
<circle cx="249.59" cy="280.1" r="1.35" fill="#19dc3c"/>
<circle cx="257.02" cy="274.36" r="1.35" fill="#19dc3c"/>
<circle cx="265.22" cy="268.62" r="1.35" fill="#19dc3c"/>
<circle cx="268.34" cy="262.89" r="1.35" fill="#19dc3c"/>
<circle cx="272.23" cy="257.16" r="1.35" fill="#19dc3c"/>
<circle cx="299.57" cy="251.42" r="1.35" fill="#19dc3c"/>
<circle cx="300.24" cy="245.69" r="1.35" fill="#19dc3c"/>
<polyline points="248.9,279.4 256.3,274.5 262.4,271.5 268.5,269.6 274.7,268.4 280.8,266.6 284,263.5 290,262 295,259.5 299.5,255 301,248" fill="none" stroke="#19dc3c" stroke-width="1.2" stroke-linejoin="round" stroke-linecap="round" />
<circle cx="256.58" cy="274.36" r="1.35" fill="#19dc3c"/>
<circle cx="273.54" cy="268.62" r="1.35" fill="#19dc3c"/>
<circle cx="286.44" cy="262.89" r="1.35" fill="#19dc3c"/>
<circle cx="297.34" cy="257.16" r="1.35" fill="#19dc3c"/>
<circle cx="300.27" cy="251.42" r="1.35" fill="#19dc3c"/>
<polyline points="248.9,284.4 256.3,278.8 262.4,276.4 268.5,273.9 274,271.5 278,264.9 284.9,262.3 290,260.5 296,258 300.5,253" fill="none" stroke="#19dc3c" stroke-width="1.2" stroke-linejoin="round" stroke-linecap="round" />
<circle cx="254.59" cy="280.1" r="1.35" fill="#19dc3c"/>
<circle cx="267.38" cy="274.36" r="1.35" fill="#19dc3c"/>
<circle cx="275.74" cy="268.62" r="1.35" fill="#19dc3c"/>
<circle cx="283.33" cy="262.89" r="1.35" fill="#19dc3c"/>
<circle cx="296.76" cy="257.16" r="1.35" fill="#19dc3c"/>
<polyline points="251.4,275.2 257.5,272.7 266.1,268.4 268.5,266 272,262.5 278,262.3 284.9,259.7 290,257.2 295.2,255.5" fill="none" stroke="#19dc3c" stroke-width="1.2" stroke-linejoin="round" stroke-linecap="round" />
<circle cx="253.45" cy="274.36" r="1.35" fill="#19dc3c"/>
<circle cx="265.65" cy="268.62" r="1.35" fill="#19dc3c"/>
<circle cx="271.61" cy="262.89" r="1.35" fill="#19dc3c"/>
<circle cx="290.14" cy="257.16" r="1.35" fill="#19dc3c"/>
<polyline points="252,295.5 256.9,295 271.6,292.9 288.5,285.5 300,279.5 309.6,274 318,268.3 323,266 330,262.3 338.3,257.1 342.5,256.7 345,252" fill="none" stroke="#19dc3c" stroke-width="1.2" stroke-linejoin="round" stroke-linecap="round" />
<circle cx="274.65" cy="291.56" r="1.35" fill="#19dc3c"/>
<circle cx="287.75" cy="285.83" r="1.35" fill="#19dc3c"/>
<circle cx="298.86" cy="280.1" r="1.35" fill="#19dc3c"/>
<circle cx="308.97" cy="274.36" r="1.35" fill="#19dc3c"/>
<circle cx="317.52" cy="268.62" r="1.35" fill="#19dc3c"/>
<circle cx="328.88" cy="262.89" r="1.35" fill="#19dc3c"/>
<circle cx="338.21" cy="257.16" r="1.35" fill="#19dc3c"/>
<polyline points="248,286 255,282 262,279 270,275.5 278,271 285,267.5 292,264 298,259" fill="none" stroke="#19dc3c" stroke-width="1.2" stroke-linejoin="round" stroke-linecap="round" />
<circle cx="248.3" cy="285.83" r="1.35" fill="#19dc3c"/>
<circle cx="259.44" cy="280.1" r="1.35" fill="#19dc3c"/>
<circle cx="272.03" cy="274.36" r="1.35" fill="#19dc3c"/>
<circle cx="282.75" cy="268.62" r="1.35" fill="#19dc3c"/>
<circle cx="293.33" cy="262.89" r="1.35" fill="#19dc3c"/>
<polyline points="250,278 256,272 262,268.5 266,265 269,260 273,258.5 280,259.5 287,259 294,257 299,254" fill="none" stroke="#19dc3c" stroke-width="1.2" stroke-linejoin="round" stroke-linecap="round" />
<circle cx="253.64" cy="274.36" r="1.35" fill="#19dc3c"/>
<circle cx="261.79" cy="268.62" r="1.35" fill="#19dc3c"/>
<circle cx="267.27" cy="262.89" r="1.35" fill="#19dc3c"/>
<circle cx="293.46" cy="257.16" r="1.35" fill="#19dc3c"/>
<polyline points="248.9,281.9 260,277.1 272.3,273.4 284.5,268.5 294.3,262.4 299.2,256.2 300.5,250" fill="none" stroke="#2222c8" stroke-width="1.2" stroke-linejoin="round" stroke-linecap="round" />
<circle cx="253.07" cy="280.1" r="1.35" fill="#2222c8"/>
<circle cx="269.11" cy="274.36" r="1.35" fill="#2222c8"/>
<circle cx="284.19" cy="268.62" r="1.35" fill="#2222c8"/>
<circle cx="293.51" cy="262.89" r="1.35" fill="#2222c8"/>
<circle cx="298.45" cy="257.16" r="1.35" fill="#2222c8"/>
<circle cx="300.2" cy="251.42" r="1.35" fill="#2222c8"/>
<polyline points="250.1,286.8 260,283.8 272.3,279.5 284.5,275.8 291,272 296.8,267.3 300,260 301.5,254" fill="none" stroke="#2222c8" stroke-width="1.2" stroke-linejoin="round" stroke-linecap="round" />
<circle cx="253.3" cy="285.83" r="1.35" fill="#2222c8"/>
<circle cx="270.6" cy="280.1" r="1.35" fill="#2222c8"/>
<circle cx="286.96" cy="274.36" r="1.35" fill="#2222c8"/>
<circle cx="295.16" cy="268.62" r="1.35" fill="#2222c8"/>
<circle cx="298.73" cy="262.89" r="1.35" fill="#2222c8"/>
<circle cx="300.71" cy="257.16" r="1.35" fill="#2222c8"/>
<polyline points="252,295.8 265.3,294 284.3,290.8 301.2,285.5 320.2,280.3 332.8,275 338.3,271.7 342.5,261.3 344.6,248.8" fill="none" stroke="#2222c8" stroke-width="1.2" stroke-linejoin="round" stroke-linecap="round" />
<circle cx="279.76" cy="291.56" r="1.35" fill="#2222c8"/>
<circle cx="300.15" cy="285.83" r="1.35" fill="#2222c8"/>
<circle cx="320.69" cy="280.1" r="1.35" fill="#2222c8"/>
<circle cx="333.87" cy="274.36" r="1.35" fill="#2222c8"/>
<circle cx="339.54" cy="268.62" r="1.35" fill="#2222c8"/>
<circle cx="341.86" cy="262.89" r="1.35" fill="#2222c8"/>
<circle cx="343.2" cy="257.16" r="1.35" fill="#2222c8"/>
<circle cx="344.16" cy="251.42" r="1.35" fill="#2222c8"/>
<polyline points="249,283.5 256,281 266,278.5 276,276 285,272 291.5,268 297,262.5" fill="none" stroke="#2222c8" stroke-width="1.2" stroke-linejoin="round" stroke-linecap="round" />
<circle cx="259.62" cy="280.1" r="1.35" fill="#2222c8"/>
<circle cx="279.69" cy="274.36" r="1.35" fill="#2222c8"/>
<circle cx="290.48" cy="268.62" r="1.35" fill="#2222c8"/>
<circle cx="296.61" cy="262.89" r="1.35" fill="#2222c8"/>
<polyline points="275.2,182.6 275.2,262 274.9,272 274.6,280.3 271.9,283.3 267.3,285 262,287.5 255,290 248,292" fill="none" stroke="#ee1c1c" stroke-width="1.2" stroke-linejoin="round" stroke-linecap="round" />
<path d="M249.52 289.26l1.85 2.3l-1.85 2.3l-1.85 -2.3z" fill="#ee1c1c"/>
<path d="M265.54 283.53l1.85 2.3l-1.85 2.3l-1.85 -2.3z" fill="#ee1c1c"/>
<path d="M274.61 277.8l1.85 2.3l-1.85 2.3l-1.85 -2.3z" fill="#ee1c1c"/>
<path d="M274.81 272.06l1.85 2.3l-1.85 2.3l-1.85 -2.3z" fill="#ee1c1c"/>
<path d="M275 266.32l1.85 2.3l-1.85 2.3l-1.85 -2.3z" fill="#ee1c1c"/>
<path d="M275.17 260.59l1.85 2.3l-1.85 2.3l-1.85 -2.3z" fill="#ee1c1c"/>
<path d="M275.2 254.86l1.85 2.3l-1.85 2.3l-1.85 -2.3z" fill="#ee1c1c"/>
<path d="M275.2 249.12l1.85 2.3l-1.85 2.3l-1.85 -2.3z" fill="#ee1c1c"/>
<path d="M275.2 243.38l1.85 2.3l-1.85 2.3l-1.85 -2.3z" fill="#ee1c1c"/>
<path d="M275.2 237.65l1.85 2.3l-1.85 2.3l-1.85 -2.3z" fill="#ee1c1c"/>
<path d="M275.2 231.91l1.85 2.3l-1.85 2.3l-1.85 -2.3z" fill="#ee1c1c"/>
<path d="M275.2 226.18l1.85 2.3l-1.85 2.3l-1.85 -2.3z" fill="#ee1c1c"/>
<path d="M275.2 220.44l1.85 2.3l-1.85 2.3l-1.85 -2.3z" fill="#ee1c1c"/>
<path d="M275.2 214.71l1.85 2.3l-1.85 2.3l-1.85 -2.3z" fill="#ee1c1c"/>
<path d="M275.2 208.97l1.85 2.3l-1.85 2.3l-1.85 -2.3z" fill="#ee1c1c"/>
<path d="M275.2 203.24l1.85 2.3l-1.85 2.3l-1.85 -2.3z" fill="#ee1c1c"/>
<path d="M275.2 197.5l1.85 2.3l-1.85 2.3l-1.85 -2.3z" fill="#ee1c1c"/>
<path d="M275.2 191.77l1.85 2.3l-1.85 2.3l-1.85 -2.3z" fill="#ee1c1c"/>
<path d="M275.2 186.03l1.85 2.3l-1.85 2.3l-1.85 -2.3z" fill="#ee1c1c"/>
<polyline points="294,182.6 294,258.9 292.6,262.3 290,265.8 286,270 281,274 278,275.5 268.5,279.4 258.7,281.3 248.9,283.1" fill="none" stroke="#ee1c1c" stroke-width="1.2" stroke-linejoin="round" stroke-linecap="round" />
<circle cx="264.92" cy="280.1" r="1.6" fill="none" stroke="#ee1c1c" stroke-width="1.3"/>
<circle cx="280.28" cy="274.36" r="1.6" fill="none" stroke="#ee1c1c" stroke-width="1.3"/>
<circle cx="287.31" cy="268.62" r="1.6" fill="none" stroke="#ee1c1c" stroke-width="1.3"/>
<circle cx="292.16" cy="262.89" r="1.6" fill="none" stroke="#ee1c1c" stroke-width="1.3"/>
<circle cx="294" cy="257.16" r="1.6" fill="none" stroke="#ee1c1c" stroke-width="1.3"/>
<circle cx="294" cy="251.42" r="1.6" fill="none" stroke="#ee1c1c" stroke-width="1.3"/>
<circle cx="294" cy="245.69" r="1.6" fill="none" stroke="#ee1c1c" stroke-width="1.3"/>
<circle cx="294" cy="239.95" r="1.6" fill="none" stroke="#ee1c1c" stroke-width="1.3"/>
<circle cx="294" cy="234.22" r="1.6" fill="none" stroke="#ee1c1c" stroke-width="1.3"/>
<circle cx="294" cy="228.48" r="1.6" fill="none" stroke="#ee1c1c" stroke-width="1.3"/>
<circle cx="294" cy="222.75" r="1.6" fill="none" stroke="#ee1c1c" stroke-width="1.3"/>
<circle cx="294" cy="217.01" r="1.6" fill="none" stroke="#ee1c1c" stroke-width="1.3"/>
<circle cx="294" cy="211.28" r="1.6" fill="none" stroke="#ee1c1c" stroke-width="1.3"/>
<circle cx="294" cy="205.54" r="1.6" fill="none" stroke="#ee1c1c" stroke-width="1.3"/>
<circle cx="294" cy="199.81" r="1.6" fill="none" stroke="#ee1c1c" stroke-width="1.3"/>
<circle cx="294" cy="194.07" r="1.6" fill="none" stroke="#ee1c1c" stroke-width="1.3"/>
<circle cx="294" cy="188.34" r="1.6" fill="none" stroke="#ee1c1c" stroke-width="1.3"/>
<polyline points="300.8,182.6 300.8,254.7 300.3,258.9 296.9,264 290,270.9 283.2,276 278,281.2 274.7,283.1 262.4,285.6 251.4,288" fill="none" stroke="#ee1c1c" stroke-width="1.2" stroke-linejoin="round" stroke-linecap="round" />
<rect x="259.9" y="284.38" width="2.9" height="2.9" fill="#ee1c1c"/>
<rect x="277.65" y="278.65" width="2.9" height="2.9" fill="#ee1c1c"/>
<rect x="283.94" y="272.91" width="2.9" height="2.9" fill="#ee1c1c"/>
<rect x="290.82" y="267.18" width="2.9" height="2.9" fill="#ee1c1c"/>
<rect x="296.19" y="261.44" width="2.9" height="2.9" fill="#ee1c1c"/>
<rect x="299.06" y="255.71" width="2.9" height="2.9" fill="#ee1c1c"/>
<rect x="299.35" y="249.97" width="2.9" height="2.9" fill="#ee1c1c"/>
<rect x="299.35" y="244.24" width="2.9" height="2.9" fill="#ee1c1c"/>
<rect x="299.35" y="238.5" width="2.9" height="2.9" fill="#ee1c1c"/>
<rect x="299.35" y="232.77" width="2.9" height="2.9" fill="#ee1c1c"/>
<rect x="299.35" y="227.03" width="2.9" height="2.9" fill="#ee1c1c"/>
<rect x="299.35" y="221.3" width="2.9" height="2.9" fill="#ee1c1c"/>
<rect x="299.35" y="215.56" width="2.9" height="2.9" fill="#ee1c1c"/>
<rect x="299.35" y="209.83" width="2.9" height="2.9" fill="#ee1c1c"/>
<rect x="299.35" y="204.09" width="2.9" height="2.9" fill="#ee1c1c"/>
<rect x="299.35" y="198.36" width="2.9" height="2.9" fill="#ee1c1c"/>
<rect x="299.35" y="192.62" width="2.9" height="2.9" fill="#ee1c1c"/>
<rect x="299.35" y="186.89" width="2.9" height="2.9" fill="#ee1c1c"/>
<polyline points="304.5,182.6 304.4,208 302.8,214 302.4,255 301.2,260.6 295.2,269.2 288.3,274.3 283.2,280.3 278,285.5 268.5,286.8 256.3,290 249,291.5" fill="none" stroke="#ee1c1c" stroke-width="1.2" stroke-linejoin="round" stroke-linecap="round" />
<circle cx="275.59" cy="285.83" r="1.5" fill="#ee1c1c"/>
<circle cx="283.37" cy="280.1" r="1.5" fill="#ee1c1c"/>
<circle cx="288.25" cy="274.36" r="1.5" fill="#ee1c1c"/>
<circle cx="295.6" cy="268.62" r="1.5" fill="#ee1c1c"/>
<circle cx="299.6" cy="262.89" r="1.5" fill="#ee1c1c"/>
<circle cx="301.94" cy="257.16" r="1.5" fill="#ee1c1c"/>
<circle cx="302.43" cy="251.42" r="1.5" fill="#ee1c1c"/>
<circle cx="302.49" cy="245.69" r="1.5" fill="#ee1c1c"/>
<circle cx="302.55" cy="239.95" r="1.5" fill="#ee1c1c"/>
<circle cx="302.6" cy="234.22" r="1.5" fill="#ee1c1c"/>
<circle cx="302.66" cy="228.48" r="1.5" fill="#ee1c1c"/>
<circle cx="302.71" cy="222.75" r="1.5" fill="#ee1c1c"/>
<circle cx="302.77" cy="217.01" r="1.5" fill="#ee1c1c"/>
<circle cx="303.53" cy="211.28" r="1.5" fill="#ee1c1c"/>
<circle cx="304.41" cy="205.54" r="1.5" fill="#ee1c1c"/>
<circle cx="304.43" cy="199.81" r="1.5" fill="#ee1c1c"/>
<circle cx="304.45" cy="194.07" r="1.5" fill="#ee1c1c"/>
<circle cx="304.48" cy="188.34" r="1.5" fill="#ee1c1c"/>
<polyline points="300.3,245 299.2,256.2 296.8,262 291.9,268.5 284.5,273.4 272.3,277.1 260,279.5 249,282" fill="none" stroke="#ee1c1c" stroke-width="1.2" stroke-linejoin="round" stroke-linecap="round" />
<circle cx="257.38" cy="280.1" r="1.35" fill="#ee1c1c"/>
<circle cx="281.33" cy="274.36" r="1.35" fill="#ee1c1c"/>
<circle cx="291.71" cy="268.62" r="1.35" fill="#ee1c1c"/>
<circle cx="296.13" cy="262.89" r="1.35" fill="#ee1c1c"/>
<circle cx="298.8" cy="257.16" r="1.35" fill="#ee1c1c"/>
<circle cx="299.67" cy="251.42" r="1.35" fill="#ee1c1c"/>
<polyline points="298,266 293,272 285,277.5 275,281.5 265,284.5 256,287.5 247,289.5" fill="none" stroke="#ee1c1c" stroke-width="1.2" stroke-linejoin="round" stroke-linecap="round" />
<circle cx="261.01" cy="285.83" r="1.44" fill="none" stroke="#ee1c1c" stroke-width="1.3"/>
<circle cx="278.51" cy="280.1" r="1.44" fill="none" stroke="#ee1c1c" stroke-width="1.3"/>
<circle cx="289.57" cy="274.36" r="1.44" fill="none" stroke="#ee1c1c" stroke-width="1.3"/>
<circle cx="295.81" cy="268.62" r="1.44" fill="none" stroke="#ee1c1c" stroke-width="1.3"/>
<polyline points="301,250 296.5,265 291,271.5 287,276 282.1,280.7 272.3,283.2 260,286.9 250,289" fill="none" stroke="#ee1c1c" stroke-width="1.2" stroke-linejoin="round" stroke-linecap="round" />
<rect x="262.25" y="284.52" width="2.61" height="2.61" fill="#ee1c1c"/>
<rect x="281.43" y="278.79" width="2.61" height="2.61" fill="#ee1c1c"/>
<rect x="287.15" y="273.06" width="2.61" height="2.61" fill="#ee1c1c"/>
<rect x="292.13" y="267.32" width="2.61" height="2.61" fill="#ee1c1c"/>
<rect x="295.83" y="261.58" width="2.61" height="2.61" fill="#ee1c1c"/>
<rect x="297.55" y="255.85" width="2.61" height="2.61" fill="#ee1c1c"/>
<rect x="299.27" y="250.12" width="2.61" height="2.61" fill="#ee1c1c"/>
<polyline points="345.5,182.6 345.6,246.7 342.5,261.3 339.2,275 333,281 328.6,284.5 316,290.8 292.7,295 267.4,296.1 252.7,295.3 248.4,292" fill="none" stroke="#ee1c1c" stroke-width="1.2" stroke-linejoin="round" stroke-linecap="round" />
<circle cx="311.76" cy="291.56" r="1.5" fill="#ee1c1c"/>
<circle cx="325.94" cy="285.83" r="1.5" fill="#ee1c1c"/>
<circle cx="333.94" cy="280.1" r="1.5" fill="#ee1c1c"/>
<circle cx="339.35" cy="274.36" r="1.5" fill="#ee1c1c"/>
<circle cx="340.74" cy="268.62" r="1.5" fill="#ee1c1c"/>
<circle cx="342.12" cy="262.89" r="1.5" fill="#ee1c1c"/>
<circle cx="343.38" cy="257.16" r="1.5" fill="#ee1c1c"/>
<circle cx="344.6" cy="251.42" r="1.5" fill="#ee1c1c"/>
<circle cx="345.6" cy="245.69" r="1.5" fill="#ee1c1c"/>
<circle cx="345.59" cy="239.95" r="1.5" fill="#ee1c1c"/>
<circle cx="345.58" cy="234.22" r="1.5" fill="#ee1c1c"/>
<circle cx="345.57" cy="228.48" r="1.5" fill="#ee1c1c"/>
<circle cx="345.56" cy="222.75" r="1.5" fill="#ee1c1c"/>
<circle cx="345.55" cy="217.01" r="1.5" fill="#ee1c1c"/>
<circle cx="345.54" cy="211.28" r="1.5" fill="#ee1c1c"/>
<circle cx="345.54" cy="205.54" r="1.5" fill="#ee1c1c"/>
<circle cx="345.53" cy="199.81" r="1.5" fill="#ee1c1c"/>
<circle cx="345.52" cy="194.07" r="1.5" fill="#ee1c1c"/>
<circle cx="345.51" cy="188.34" r="1.5" fill="#ee1c1c"/>
<rect x="216.8" y="225.1" width="36.5" height="37.1" fill="#fff" stroke="#606060" stroke-width="0.7"/>
<path d="M219.6 229H233.8" stroke="#333" stroke-width="1.0"/>
<path d="M226.8 227.04l1.57 1.95l-1.57 1.95l-1.57 -1.95z" fill="#222"/>
<text x="235.1" y="231" font-size="5.6" fill="#3a3a3a" text-anchor="start" >TRO</text>
<path d="M219.6 236.25H233.8" stroke="#333" stroke-width="1.4"/>
<rect x="225.53" y="234.97" width="2.55" height="2.55" fill="#fff" stroke="#222" stroke-width="0.9"/>
<path d="M226.8 234.97v2.55" stroke="#222" stroke-width="0.8"/>
<text x="235.1" y="238.25" font-size="5.6" fill="#3a3a3a" text-anchor="start" >NHP</text>
<path d="M219.6 243.5H233.8" stroke="#888" stroke-width="1.4"/>
<circle cx="226.8" cy="243.5" r="1.1" fill="#fff" stroke="#222" stroke-width="0.8"/>
<text x="235.1" y="245.5" font-size="5.6" fill="#3a3a3a" text-anchor="start" >SHP</text>
<path d="M219.6 250.75H233.8" stroke="#888" stroke-width="1.6"/>
<path d="M226.8 248.79l1.57 1.95l-1.57 1.95l-1.57 -1.95z" fill="#222"/>
<text x="235.1" y="252.75" font-size="5.6" fill="#3a3a3a" text-anchor="start" >NHSM</text>
<path d="M219.6 258H233.8" stroke="#333" stroke-width="1.2"/>
<circle cx="226.8" cy="258" r="1.27" fill="#222"/>
<text x="235.1" y="260" font-size="5.6" fill="#3a3a3a" text-anchor="start" >SHSM</text>
<path d="M423.5 185V299.1M450.5 185V299.1M477.5 185V299.1M503.5 185V299.1M530.5 185V299.1M397 284.5H536.6M397 270.5H536.6M397 256.5H536.6M397 241.5H536.6M397 227.5H536.6M397 213.5H536.6M397 198.5H536.6" stroke="#c8c8c8" stroke-width="1" stroke-dasharray="1,1" fill="none"/>
<path d="M396.8 299.1v-3.5M396.8 184.3v3.5M402.15 299.1v-1.8M402.15 184.3v1.8M407.5 299.1v-1.8M407.5 184.3v1.8M412.86 299.1v-1.8M412.86 184.3v1.8M418.21 299.1v-1.8M418.21 184.3v1.8M423.56 299.1v-3.5M423.56 184.3v3.5M428.91 299.1v-1.8M428.91 184.3v1.8M434.27 299.1v-1.8M434.27 184.3v1.8M439.62 299.1v-1.8M439.62 184.3v1.8M444.97 299.1v-1.8M444.97 184.3v1.8M450.32 299.1v-3.5M450.32 184.3v3.5M455.67 299.1v-1.8M455.67 184.3v1.8M461.03 299.1v-1.8M461.03 184.3v1.8M466.38 299.1v-1.8M466.38 184.3v1.8M471.73 299.1v-1.8M471.73 184.3v1.8M477.08 299.1v-3.5M477.08 184.3v3.5M482.44 299.1v-1.8M482.44 184.3v1.8M487.79 299.1v-1.8M487.79 184.3v1.8M493.14 299.1v-1.8M493.14 184.3v1.8M498.49 299.1v-1.8M498.49 184.3v1.8M503.84 299.1v-3.5M503.84 184.3v3.5M509.2 299.1v-1.8M509.2 184.3v1.8M514.55 299.1v-1.8M514.55 184.3v1.8M519.9 299.1v-1.8M519.9 184.3v1.8M525.25 299.1v-1.8M525.25 184.3v1.8M530.61 299.1v-3.5M530.61 184.3v3.5M535.96 299.1v-1.8M535.96 184.3v1.8M396.8 299.1h3.5M536.6 299.1h-3.5M396.8 296.23h1.8M536.6 296.23h-1.8M396.8 293.36h1.8M536.6 293.36h-1.8M396.8 290.49h1.8M536.6 290.49h-1.8M396.8 287.62h1.8M536.6 287.62h-1.8M396.8 284.75h3.5M536.6 284.75h-3.5M396.8 281.88h1.8M536.6 281.88h-1.8M396.8 279.01h1.8M536.6 279.01h-1.8M396.8 276.14h1.8M536.6 276.14h-1.8M396.8 273.27h1.8M536.6 273.27h-1.8M396.8 270.4h3.5M536.6 270.4h-3.5M396.8 267.53h1.8M536.6 267.53h-1.8M396.8 264.66h1.8M536.6 264.66h-1.8M396.8 261.79h1.8M536.6 261.79h-1.8M396.8 258.92h1.8M536.6 258.92h-1.8M396.8 256.05h3.5M536.6 256.05h-3.5M396.8 253.18h1.8M536.6 253.18h-1.8M396.8 250.31h1.8M536.6 250.31h-1.8M396.8 247.44h1.8M536.6 247.44h-1.8M396.8 244.57h1.8M536.6 244.57h-1.8M396.8 241.7h3.5M536.6 241.7h-3.5M396.8 238.83h1.8M536.6 238.83h-1.8M396.8 235.96h1.8M536.6 235.96h-1.8M396.8 233.09h1.8M536.6 233.09h-1.8M396.8 230.22h1.8M536.6 230.22h-1.8M396.8 227.35h3.5M536.6 227.35h-3.5M396.8 224.48h1.8M536.6 224.48h-1.8M396.8 221.61h1.8M536.6 221.61h-1.8M396.8 218.74h1.8M536.6 218.74h-1.8M396.8 215.87h1.8M536.6 215.87h-1.8M396.8 213h3.5M536.6 213h-3.5M396.8 210.13h1.8M536.6 210.13h-1.8M396.8 207.26h1.8M536.6 207.26h-1.8M396.8 204.39h1.8M536.6 204.39h-1.8M396.8 201.52h1.8M536.6 201.52h-1.8M396.8 198.65h3.5M536.6 198.65h-3.5M396.8 195.78h1.8M536.6 195.78h-1.8M396.8 192.91h1.8M536.6 192.91h-1.8M396.8 190.04h1.8M536.6 190.04h-1.8M396.8 187.17h1.8M536.6 187.17h-1.8M396.8 184.3h3.5M536.6 184.3h-3.5" stroke="#626262" stroke-width="0.8" fill="none"/>
<rect x="396.8" y="184.3" width="139.8" height="114.8" fill="none" stroke="#626262" stroke-width="0.9"/>
<text x="396.8" y="309.1" font-size="9.4" fill="#1e1e1e" text-anchor="middle" stroke="#1e1e1e" stroke-width="0.12">0</text>
<text x="423.56" y="309.1" font-size="9.4" fill="#1e1e1e" text-anchor="middle" stroke="#1e1e1e" stroke-width="0.12">100</text>
<text x="450.32" y="309.1" font-size="9.4" fill="#1e1e1e" text-anchor="middle" stroke="#1e1e1e" stroke-width="0.12">200</text>
<text x="477.08" y="309.1" font-size="9.4" fill="#1e1e1e" text-anchor="middle" stroke="#1e1e1e" stroke-width="0.12">300</text>
<text x="503.84" y="309.1" font-size="9.4" fill="#1e1e1e" text-anchor="middle" stroke="#1e1e1e" stroke-width="0.12">400</text>
<text x="530.61" y="309.1" font-size="9.4" fill="#1e1e1e" text-anchor="middle" stroke="#1e1e1e" stroke-width="0.12">500</text>
<text x="395.6" y="302.4" font-size="9.4" fill="#1e1e1e" text-anchor="end" stroke="#1e1e1e" stroke-width="0.12">0</text>
<text x="395.6" y="273.7" font-size="9.4" fill="#1e1e1e" text-anchor="end" stroke="#1e1e1e" stroke-width="0.12">5</text>
<text x="395.6" y="245" font-size="9.4" fill="#1e1e1e" text-anchor="end" stroke="#1e1e1e" stroke-width="0.12">10</text>
<text x="395.6" y="216.3" font-size="9.4" fill="#1e1e1e" text-anchor="end" stroke="#1e1e1e" stroke-width="0.12">15</text>
<text x="395.6" y="187.6" font-size="9.4" fill="#1e1e1e" text-anchor="end" stroke="#1e1e1e" stroke-width="0.12">20</text>
<text x="466.7" y="318.7" font-size="9.4" fill="#1e1e1e" text-anchor="middle" stroke="#1e1e1e" stroke-width="0.12">Number of profiles [1]</text>
<text x="0" y="0" font-size="9.4" fill="#1e1e1e" stroke="#1e1e1e" stroke-width="0.12" text-anchor="middle" transform="translate(380.6,241.7) rotate(-90)">Altitude [km]</text>
<text x="465.9" y="177" font-size="9.55" fill="#1e1e1e" text-anchor="middle" stroke="#1e1e1e" stroke-width="0.12">COSMIC Latitude bands</text>
<text x="398.8" y="198" font-size="6.5" fill="#ee1c1c" text-anchor="start" stroke="#ee1c1c" stroke-width="0.25">Dynamic</text>
<text x="398.8" y="206.5" font-size="6.5" fill="#111111" text-anchor="start" stroke="#111111" stroke-width="0.18">OPSv5.6</text>
<text x="398.8" y="215" font-size="6.5" fill="#19dc3c" text-anchor="start" stroke="#19dc3c" stroke-width="0.25">CDAAC</text>
<text x="398.8" y="223.5" font-size="6.5" fill="#2222c8" text-anchor="start" stroke="#2222c8" stroke-width="0.25">ROM-SAF</text>
<polyline points="405,297.6 445,294.8 463.4,292 472.6,289 480,287.5 484.5,286 490.1,281.6 495.6,276.1 497.5,268" fill="none" stroke="#111111" stroke-width="1.1" stroke-linejoin="round" stroke-linecap="round" />
<polyline points="405,298.6 445,297.2 490,294 508,292.5 517.6,291 523,289 525.5,284" fill="none" stroke="#111111" stroke-width="1.1" stroke-linejoin="round" stroke-linecap="round" />
<polyline points="460,292.5 470,289 476,283 478,276" fill="none" stroke="#111111" stroke-width="1.1" stroke-linejoin="round" stroke-linecap="round" />
<polyline points="404,295.2 430,292.6 445,290.2 455.5,287.1 463.8,285 470.7,281.6 475.6,275.4 477.6,266 478.3,255 478.8,245" fill="none" stroke="#19dc3c" stroke-width="1.2" stroke-linejoin="round" stroke-linecap="round" />
<circle cx="422.4" cy="293.36" r="1.35" fill="#19dc3c"/>
<circle cx="453.74" cy="287.62" r="1.35" fill="#19dc3c"/>
<circle cx="470.13" cy="281.88" r="1.35" fill="#19dc3c"/>
<circle cx="475.02" cy="276.14" r="1.35" fill="#19dc3c"/>
<circle cx="476.66" cy="270.4" r="1.35" fill="#19dc3c"/>
<circle cx="477.69" cy="264.66" r="1.35" fill="#19dc3c"/>
<circle cx="478.05" cy="258.92" r="1.35" fill="#19dc3c"/>
<circle cx="478.39" cy="253.18" r="1.35" fill="#19dc3c"/>
<circle cx="478.68" cy="247.44" r="1.35" fill="#19dc3c"/>
<polyline points="406,296.3 445,293.2 470,290.6 490,289.8 499.2,289.6 508.4,289.1 517.6,288 523.1,285.6 524.9,281.8 525.8,276 526.1,262 526.3,250" fill="none" stroke="#19dc3c" stroke-width="1.2" stroke-linejoin="round" stroke-linecap="round" />
<circle cx="442.99" cy="293.36" r="1.35" fill="#19dc3c"/>
<circle cx="518.47" cy="287.62" r="1.35" fill="#19dc3c"/>
<circle cx="524.86" cy="281.88" r="1.35" fill="#19dc3c"/>
<circle cx="525.78" cy="276.14" r="1.35" fill="#19dc3c"/>
<circle cx="525.92" cy="270.4" r="1.35" fill="#19dc3c"/>
<circle cx="526.04" cy="264.66" r="1.35" fill="#19dc3c"/>
<circle cx="526.15" cy="258.92" r="1.35" fill="#19dc3c"/>
<circle cx="526.25" cy="253.18" r="1.35" fill="#19dc3c"/>
<polyline points="468,287.5 480.4,283.5 485.9,280.5 492.8,276.8 496.5,272.5 498.2,264 498.8,255" fill="none" stroke="#19dc3c" stroke-width="1.2" stroke-linejoin="round" stroke-linecap="round" />
<circle cx="483.37" cy="281.88" r="1.35" fill="#19dc3c"/>
<circle cx="493.37" cy="276.14" r="1.35" fill="#19dc3c"/>
<circle cx="496.92" cy="270.4" r="1.35" fill="#19dc3c"/>
<circle cx="498.07" cy="264.66" r="1.35" fill="#19dc3c"/>
<circle cx="498.54" cy="258.92" r="1.35" fill="#19dc3c"/>
<polyline points="427,293 429.3,291.3 431.5,286 434,281.5 436.5,278" fill="none" stroke="#19dc3c" stroke-width="1.2" stroke-linejoin="round" stroke-linecap="round" />
<circle cx="430.83" cy="287.62" r="1.35" fill="#19dc3c"/>
<circle cx="433.79" cy="281.88" r="1.35" fill="#19dc3c"/>
<polyline points="405,296.8 445,292.8 459.7,287.8 468,284.4 474.9,278.2 477.2,270" fill="none" stroke="#2222c8" stroke-width="1.2" stroke-linejoin="round" stroke-linecap="round" />
<circle cx="439.4" cy="293.36" r="1.35" fill="#2222c8"/>
<circle cx="460.14" cy="287.62" r="1.35" fill="#2222c8"/>
<circle cx="470.8" cy="281.88" r="1.35" fill="#2222c8"/>
<circle cx="475.48" cy="276.14" r="1.35" fill="#2222c8"/>
<circle cx="477.09" cy="270.4" r="1.35" fill="#2222c8"/>
<polyline points="420,297.4 460,295.2 499.2,292.2 515,292.4 523,291.2 525.5,286" fill="none" stroke="#2222c8" stroke-width="1.2" stroke-linejoin="round" stroke-linecap="round" />
<circle cx="484.04" cy="293.36" r="1.35" fill="#2222c8"/>
<circle cx="524.72" cy="287.62" r="1.35" fill="#2222c8"/>
<polyline points="427.2,292.9 428.8,288.6 430.9,285.4 432.5,282.2 434.7,279 437.4,275.7 438.2,272" fill="none" stroke="#2222c8" stroke-width="1.2" stroke-linejoin="round" stroke-linecap="round" />
<circle cx="429.44" cy="287.62" r="1.35" fill="#2222c8"/>
<circle cx="432.72" cy="281.88" r="1.35" fill="#2222c8"/>
<circle cx="437.04" cy="276.14" r="1.35" fill="#2222c8"/>
<polyline points="430.4,290.2 432.5,286.5 435.2,282.7 437.5,279" fill="none" stroke="#2222c8" stroke-width="1.2" stroke-linejoin="round" stroke-linecap="round" />
<circle cx="431.86" cy="287.62" r="1.35" fill="#2222c8"/>
<circle cx="435.71" cy="281.88" r="1.35" fill="#2222c8"/>
<polyline points="470,288.5 478,285.5 484.5,282.3 490.1,278.2 495.6,275.4 497.8,268" fill="none" stroke="#2222c8" stroke-width="1.2" stroke-linejoin="round" stroke-linecap="round" />
<circle cx="472.35" cy="287.62" r="1.35" fill="#2222c8"/>
<circle cx="485.07" cy="281.88" r="1.35" fill="#2222c8"/>
<circle cx="494.15" cy="276.14" r="1.35" fill="#2222c8"/>
<circle cx="497.09" cy="270.4" r="1.35" fill="#2222c8"/>
<polyline points="442.2,184.3 442.2,222 440,226 438.4,229 438.1,275.7 436.3,281.1 429.3,281.6 426.1,284.9 423.4,287.5 420.7,290.8 418,293.5 414.3,295.6 405,296.8" fill="none" stroke="#ee1c1c" stroke-width="1.2" stroke-linejoin="round" stroke-linecap="round" />
<rect x="416.33" y="291.55" width="3.62" height="3.62" fill="#ee1c1c"/>
<rect x="421.49" y="285.81" width="3.62" height="3.62" fill="#ee1c1c"/>
<rect x="427.22" y="280.07" width="3.62" height="3.62" fill="#ee1c1c"/>
<rect x="436.14" y="274.33" width="3.62" height="3.62" fill="#ee1c1c"/>
<rect x="436.32" y="268.59" width="3.62" height="3.62" fill="#ee1c1c"/>
<rect x="436.36" y="262.85" width="3.62" height="3.62" fill="#ee1c1c"/>
<rect x="436.4" y="257.11" width="3.62" height="3.62" fill="#ee1c1c"/>
<rect x="436.43" y="251.37" width="3.62" height="3.62" fill="#ee1c1c"/>
<rect x="436.47" y="245.63" width="3.62" height="3.62" fill="#ee1c1c"/>
<rect x="436.51" y="239.89" width="3.62" height="3.62" fill="#ee1c1c"/>
<rect x="436.54" y="234.15" width="3.62" height="3.62" fill="#ee1c1c"/>
<rect x="436.58" y="228.41" width="3.62" height="3.62" fill="#ee1c1c"/>
<rect x="439.02" y="222.67" width="3.62" height="3.62" fill="#ee1c1c"/>
<rect x="440.39" y="216.93" width="3.62" height="3.62" fill="#ee1c1c"/>
<rect x="440.39" y="211.19" width="3.62" height="3.62" fill="#ee1c1c"/>
<rect x="440.39" y="205.45" width="3.62" height="3.62" fill="#ee1c1c"/>
<rect x="440.39" y="199.71" width="3.62" height="3.62" fill="#ee1c1c"/>
<rect x="440.39" y="193.97" width="3.62" height="3.62" fill="#ee1c1c"/>
<rect x="440.39" y="188.23" width="3.62" height="3.62" fill="#ee1c1c"/>
<polyline points="440.9,184.3 440.9,222 438.6,229 438.2,276 436.3,282.2 435.8,285.9 434.7,288.1 433.1,290.8 430.4,293.5 420,296.2 405,297.3" fill="none" stroke="#ee1c1c" stroke-width="1.2" stroke-linejoin="round" stroke-linecap="round" />
<circle cx="430.54" cy="293.36" r="1.6" fill="none" stroke="#ee1c1c" stroke-width="1.3"/>
<circle cx="434.94" cy="287.62" r="1.6" fill="none" stroke="#ee1c1c" stroke-width="1.3"/>
<circle cx="436.4" cy="281.88" r="1.6" fill="none" stroke="#ee1c1c" stroke-width="1.3"/>
<circle cx="438.16" cy="276.14" r="1.6" fill="none" stroke="#ee1c1c" stroke-width="1.3"/>
<circle cx="438.25" cy="270.4" r="1.6" fill="none" stroke="#ee1c1c" stroke-width="1.3"/>
<circle cx="438.3" cy="264.66" r="1.6" fill="none" stroke="#ee1c1c" stroke-width="1.3"/>
<circle cx="438.35" cy="258.92" r="1.6" fill="none" stroke="#ee1c1c" stroke-width="1.3"/>
<circle cx="438.39" cy="253.18" r="1.6" fill="none" stroke="#ee1c1c" stroke-width="1.3"/>
<circle cx="438.44" cy="247.44" r="1.6" fill="none" stroke="#ee1c1c" stroke-width="1.3"/>
<circle cx="438.49" cy="241.7" r="1.6" fill="none" stroke="#ee1c1c" stroke-width="1.3"/>
<circle cx="438.54" cy="235.96" r="1.6" fill="none" stroke="#ee1c1c" stroke-width="1.3"/>
<circle cx="438.59" cy="230.22" r="1.6" fill="none" stroke="#ee1c1c" stroke-width="1.3"/>
<circle cx="440.09" cy="224.48" r="1.6" fill="none" stroke="#ee1c1c" stroke-width="1.3"/>
<circle cx="440.9" cy="218.74" r="1.6" fill="none" stroke="#ee1c1c" stroke-width="1.3"/>
<circle cx="440.9" cy="213" r="1.6" fill="none" stroke="#ee1c1c" stroke-width="1.3"/>
<circle cx="440.9" cy="207.26" r="1.6" fill="none" stroke="#ee1c1c" stroke-width="1.3"/>
<circle cx="440.9" cy="201.52" r="1.6" fill="none" stroke="#ee1c1c" stroke-width="1.3"/>
<circle cx="440.9" cy="195.78" r="1.6" fill="none" stroke="#ee1c1c" stroke-width="1.3"/>
<circle cx="440.9" cy="190.04" r="1.6" fill="none" stroke="#ee1c1c" stroke-width="1.3"/>
<polyline points="487.2,184.3 487.2,207 485.3,212.7 483.4,219.1 482.1,224.2 480.2,227.4 479.5,230.5 479,252.9 478.3,267.6 477.6,276.1 473.5,285 468,289.2 445,293.6 420,296.3 405,297.2" fill="none" stroke="#ee1c1c" stroke-width="1.2" stroke-linejoin="round" stroke-linecap="round" />
<path d="M446.25 291.06l1.85 2.3l-1.85 2.3l-1.85 -2.3z" fill="#ee1c1c"/>
<path d="M470.07 285.32l1.85 2.3l-1.85 2.3l-1.85 -2.3z" fill="#ee1c1c"/>
<path d="M474.94 279.58l1.85 2.3l-1.85 2.3l-1.85 -2.3z" fill="#ee1c1c"/>
<path d="M477.58 273.84l1.85 2.3l-1.85 2.3l-1.85 -2.3z" fill="#ee1c1c"/>
<path d="M478.07 268.1l1.85 2.3l-1.85 2.3l-1.85 -2.3z" fill="#ee1c1c"/>
<path d="M478.44 262.36l1.85 2.3l-1.85 2.3l-1.85 -2.3z" fill="#ee1c1c"/>
<path d="M478.71 256.62l1.85 2.3l-1.85 2.3l-1.85 -2.3z" fill="#ee1c1c"/>
<path d="M478.99 250.88l1.85 2.3l-1.85 2.3l-1.85 -2.3z" fill="#ee1c1c"/>
<path d="M479.12 245.14l1.85 2.3l-1.85 2.3l-1.85 -2.3z" fill="#ee1c1c"/>
<path d="M479.25 239.4l1.85 2.3l-1.85 2.3l-1.85 -2.3z" fill="#ee1c1c"/>
<path d="M479.38 233.66l1.85 2.3l-1.85 2.3l-1.85 -2.3z" fill="#ee1c1c"/>
<path d="M479.56 227.92l1.85 2.3l-1.85 2.3l-1.85 -2.3z" fill="#ee1c1c"/>
<path d="M481.93 222.18l1.85 2.3l-1.85 2.3l-1.85 -2.3z" fill="#ee1c1c"/>
<path d="M483.51 216.44l1.85 2.3l-1.85 2.3l-1.85 -2.3z" fill="#ee1c1c"/>
<path d="M485.21 210.7l1.85 2.3l-1.85 2.3l-1.85 -2.3z" fill="#ee1c1c"/>
<path d="M487.11 204.96l1.85 2.3l-1.85 2.3l-1.85 -2.3z" fill="#ee1c1c"/>
<path d="M487.2 199.22l1.85 2.3l-1.85 2.3l-1.85 -2.3z" fill="#ee1c1c"/>
<path d="M487.2 193.48l1.85 2.3l-1.85 2.3l-1.85 -2.3z" fill="#ee1c1c"/>
<path d="M487.2 187.74l1.85 2.3l-1.85 2.3l-1.85 -2.3z" fill="#ee1c1c"/>
<polyline points="515.2,184.3 515.2,212.7 513.9,218.5 510.7,222.3 506.3,224.2 501.2,224.8 499.5,226.7 499.3,258.4 497.5,271.3 495.6,274.7 491.5,276.1 485.9,280.2 480.4,285 474.9,287.8 463.4,290.8 445,294.3 405,297.8" fill="none" stroke="#ee1c1c" stroke-width="1.2" stroke-linejoin="round" stroke-linecap="round" />
<circle cx="449.94" cy="293.36" r="1.5" fill="#ee1c1c"/>
<circle cx="475.25" cy="287.62" r="1.5" fill="#ee1c1c"/>
<circle cx="483.97" cy="281.88" r="1.5" fill="#ee1c1c"/>
<circle cx="491.45" cy="276.14" r="1.5" fill="#ee1c1c"/>
<circle cx="497.63" cy="270.4" r="1.5" fill="#ee1c1c"/>
<circle cx="498.43" cy="264.66" r="1.5" fill="#ee1c1c"/>
<circle cx="499.23" cy="258.92" r="1.5" fill="#ee1c1c"/>
<circle cx="499.33" cy="253.18" r="1.5" fill="#ee1c1c"/>
<circle cx="499.37" cy="247.44" r="1.5" fill="#ee1c1c"/>
<circle cx="499.41" cy="241.7" r="1.5" fill="#ee1c1c"/>
<circle cx="499.44" cy="235.96" r="1.5" fill="#ee1c1c"/>
<circle cx="499.48" cy="230.22" r="1.5" fill="#ee1c1c"/>
<circle cx="503.92" cy="224.48" r="1.5" fill="#ee1c1c"/>
<circle cx="513.7" cy="218.74" r="1.5" fill="#ee1c1c"/>
<circle cx="515.13" cy="213" r="1.5" fill="#ee1c1c"/>
<circle cx="515.2" cy="207.26" r="1.5" fill="#ee1c1c"/>
<circle cx="515.2" cy="201.52" r="1.5" fill="#ee1c1c"/>
<circle cx="515.2" cy="195.78" r="1.5" fill="#ee1c1c"/>
<circle cx="515.2" cy="190.04" r="1.5" fill="#ee1c1c"/>
<polyline points="534.9,184.3 534.9,217.8 533.6,222.9 529.8,224.8 527.9,225.5 527,229.3 526.6,276.8 525.5,285.5 523,290.5 515,293.2 490,294.8 460,296.5 420,298" fill="none" stroke="#ee1c1c" stroke-width="1.2" stroke-linejoin="round" stroke-linecap="round" />
<circle cx="512.5" cy="293.36" r="1.5" fill="#ee1c1c"/>
<circle cx="524.44" cy="287.62" r="1.5" fill="#ee1c1c"/>
<circle cx="525.96" cy="281.88" r="1.5" fill="#ee1c1c"/>
<circle cx="526.61" cy="276.14" r="1.5" fill="#ee1c1c"/>
<circle cx="526.65" cy="270.4" r="1.5" fill="#ee1c1c"/>
<circle cx="526.7" cy="264.66" r="1.5" fill="#ee1c1c"/>
<circle cx="526.75" cy="258.92" r="1.5" fill="#ee1c1c"/>
<circle cx="526.8" cy="253.18" r="1.5" fill="#ee1c1c"/>
<circle cx="526.85" cy="247.44" r="1.5" fill="#ee1c1c"/>
<circle cx="526.9" cy="241.7" r="1.5" fill="#ee1c1c"/>
<circle cx="526.94" cy="235.96" r="1.5" fill="#ee1c1c"/>
<circle cx="526.99" cy="230.22" r="1.5" fill="#ee1c1c"/>
<circle cx="530.44" cy="224.48" r="1.5" fill="#ee1c1c"/>
<circle cx="534.66" cy="218.74" r="1.5" fill="#ee1c1c"/>
<circle cx="534.9" cy="213" r="1.5" fill="#ee1c1c"/>
<circle cx="534.9" cy="207.26" r="1.5" fill="#ee1c1c"/>
<circle cx="534.9" cy="201.52" r="1.5" fill="#ee1c1c"/>
<circle cx="534.9" cy="195.78" r="1.5" fill="#ee1c1c"/>
<circle cx="534.9" cy="190.04" r="1.5" fill="#ee1c1c"/>
<rect x="398.4" y="227.8" width="33.9" height="33.3" fill="#fff" stroke="#606060" stroke-width="0.7"/>
<path d="M401.2 231.7H415.4" stroke="#333" stroke-width="1.0"/>
<path d="M408.4 229.75l1.57 1.95l-1.57 1.95l-1.57 -1.95z" fill="#222"/>
<text x="416.7" y="233.7" font-size="4.7" fill="#3a3a3a" text-anchor="start" >TRO</text>
<path d="M401.2 238.2H415.4" stroke="#333" stroke-width="1.4"/>
<rect x="407.12" y="236.93" width="2.55" height="2.55" fill="#fff" stroke="#222" stroke-width="0.9"/>
<path d="M408.4 236.93v2.55" stroke="#222" stroke-width="0.8"/>
<text x="416.7" y="240.2" font-size="4.7" fill="#3a3a3a" text-anchor="start" >NHP</text>
<path d="M401.2 244.7H415.4" stroke="#888" stroke-width="1.4"/>
<circle cx="408.4" cy="244.7" r="1.1" fill="#fff" stroke="#222" stroke-width="0.8"/>
<text x="416.7" y="246.7" font-size="4.7" fill="#3a3a3a" text-anchor="start" >SHP</text>
<path d="M401.2 251.2H415.4" stroke="#888" stroke-width="1.6"/>
<path d="M408.4 249.25l1.57 1.95l-1.57 1.95l-1.57 -1.95z" fill="#222"/>
<text x="416.7" y="253.2" font-size="4.7" fill="#3a3a3a" text-anchor="start" >NHSM</text>
<path d="M401.2 257.7H415.4" stroke="#333" stroke-width="1.2"/>
<circle cx="408.4" cy="257.7" r="1.27" fill="#222"/>
<text x="416.7" y="259.7" font-size="4.7" fill="#3a3a3a" text-anchor="start" >SHSM</text>
</svg>
</body></html>
